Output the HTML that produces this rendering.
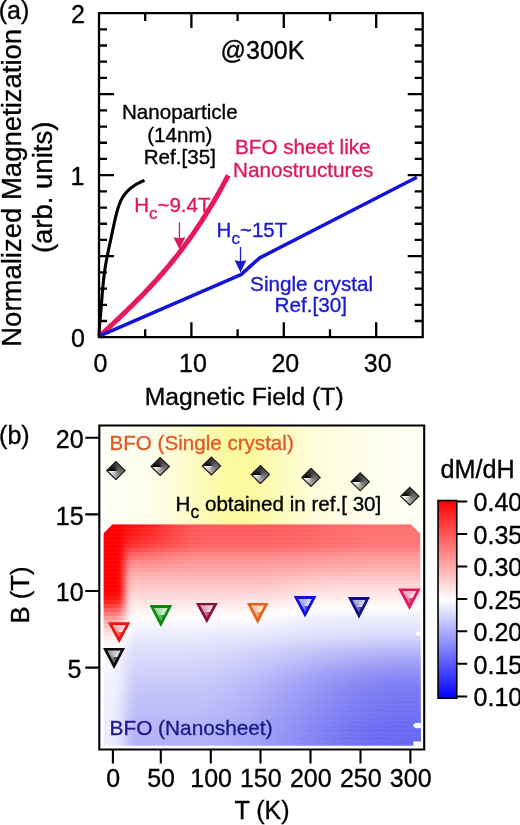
<!DOCTYPE html>
<html><head><meta charset="utf-8"><title>Figure</title>
<style>
html,body{margin:0;padding:0;background:#fff;}
body{width:520px;height:825px;position:relative;overflow:hidden;}
.dm{position:absolute;width:20px;height:19.6px;background:#1a1a1a;clip-path:polygon(50% 0,100% 50%,50% 100%,0 50%);}
.dm>div{position:absolute;left:1.7px;top:1.7px;right:1.7px;bottom:1.7px;clip-path:polygon(50% 0,100% 50%,50% 100%,0 50%);background:conic-gradient(from 270deg,#000,#1a1a1a 8%,#454545 30%,#686868 50%,#9a9a9a 72%,#d4d4d4 90%,#fff);}
.tr{position:absolute;clip-path:polygon(0 0,100% 0,50% 100%);}
.tr>div{position:absolute;clip-path:polygon(0 0,100% 0,50% 100%);}
</style></head><body>
<svg width="520" height="825" viewBox="0 0 520 825" style="display:block">
<defs>
<linearGradient id="cb" x1="0" y1="0" x2="0" y2="1"><stop offset="0" stop-color="#ff0000"/><stop offset="0.5" stop-color="#ffffff"/><stop offset="1" stop-color="#0000ff"/></linearGradient>
<linearGradient id="yg" x1="0" y1="0" x2="1" y2="0"><stop offset="0.002" stop-color="#fcfef8"/><stop offset="0.154" stop-color="#fdfdec"/><stop offset="0.231" stop-color="#fdfdd6"/><stop offset="0.309" stop-color="#fcfbbc"/><stop offset="0.377" stop-color="#fcf9a6"/><stop offset="0.439" stop-color="#fcf99c"/><stop offset="0.501" stop-color="#fdfaa8"/><stop offset="0.563" stop-color="#fdfbbe"/><stop offset="0.656" stop-color="#fefdd8"/><stop offset="0.773" stop-color="#fefee8"/><stop offset="0.999" stop-color="#fffff6"/></linearGradient>
<linearGradient id="dtop" x1="0" y1="0" x2="1" y2="0.3"><stop offset="0" stop-color="#000"/><stop offset="0.5" stop-color="#111"/><stop offset="1" stop-color="#888"/></linearGradient>
<linearGradient id="dbot" x1="0" y1="0" x2="1" y2="0"><stop offset="0" stop-color="#fff"/><stop offset="0.45" stop-color="#ddd"/><stop offset="1" stop-color="#777"/></linearGradient>
</defs>
<rect x="0" y="0" width="520" height="825" fill="#ffffff"/>
<polyline points="99.10,336.50 99.14,335.58 99.19,334.32 99.25,332.81 99.31,331.16 99.38,329.46 99.46,327.80 99.53,326.28 99.60,325.00 99.66,324.01 99.72,323.24 99.78,322.60 99.84,322.01 99.91,321.38 99.99,320.63 100.09,319.67 100.20,318.40 100.34,316.83 100.49,315.02 100.66,313.03 100.84,310.90 101.03,308.68 101.22,306.40 101.41,304.13 101.60,301.90 101.79,299.66 101.97,297.35 102.16,294.99 102.36,292.60 102.55,290.21 102.76,287.85 102.97,285.54 103.20,283.30 103.43,281.14 103.67,279.03 103.91,276.95 104.16,274.91 104.42,272.89 104.69,270.87 104.99,268.84 105.30,266.80 105.64,264.73 106.00,262.65 106.39,260.55 106.79,258.47 107.19,256.40 107.60,254.36 108.01,252.35 108.40,250.40 108.79,248.50 109.18,246.66 109.56,244.86 109.95,243.08 110.34,241.32 110.73,239.56 111.11,237.79 111.50,236.00 111.89,234.18 112.28,232.33 112.66,230.47 113.05,228.62 113.44,226.78 113.83,224.97 114.21,223.21 114.60,221.50 114.98,219.84 115.35,218.23 115.72,216.64 116.09,215.09 116.46,213.58 116.85,212.09 117.26,210.63 117.70,209.20 118.15,207.79 118.61,206.41 119.07,205.06 119.56,203.74 120.06,202.46 120.60,201.20 121.18,199.98 121.80,198.80 122.46,197.66 123.16,196.55 123.88,195.48 124.64,194.44 125.44,193.43 126.26,192.46 127.11,191.51 128.00,190.60 128.93,189.71 129.91,188.86 130.92,188.04 131.97,187.24 133.03,186.48 134.10,185.76 135.16,185.06 136.20,184.40 137.29,183.76 138.46,183.13 139.67,182.53 140.86,181.96 141.99,181.44 143.01,180.99 143.86,180.60 144.50,180.30" fill="none" stroke="#000" stroke-width="3.1" stroke-linejoin="round" stroke-linecap="butt"/>
<polygon points="101.01,338.42 103.20,336.36 105.38,334.31 107.57,332.26 109.75,330.21 111.94,328.16 114.12,326.10 116.31,324.04 118.50,321.97 120.69,319.89 122.87,317.80 125.06,315.71 127.25,313.60 129.44,311.47 131.64,309.34 133.83,307.19 136.02,305.02 138.21,302.83 140.40,300.62 142.60,298.39 144.79,296.14 146.98,293.86 149.18,291.56 151.37,289.23 153.57,286.88 155.76,284.49 157.96,282.08 160.15,279.63 162.35,277.15 164.55,274.64 166.74,272.09 168.94,269.50 171.14,266.87 173.33,264.21 175.53,261.50 177.73,258.75 179.92,255.95 182.12,253.11 184.32,250.23 186.51,247.29 188.71,244.31 190.91,241.28 193.10,238.19 195.30,235.05 197.49,231.86 199.69,228.61 201.89,225.31 204.08,221.94 206.28,218.52 208.47,215.03 210.67,211.48 212.86,207.87 215.06,204.19 217.25,200.45 219.45,196.64 221.64,192.76 223.84,188.81 226.03,184.78 228.22,180.69 230.41,176.53 225.99,174.20 223.81,178.34 221.63,182.41 219.46,186.40 217.28,190.31 215.10,194.16 212.93,197.94 210.76,201.65 208.58,205.29 206.41,208.87 204.23,212.38 202.06,215.83 199.88,219.23 197.71,222.56 195.54,225.83 193.36,229.04 191.19,232.20 189.02,235.31 186.84,238.36 184.67,241.36 182.50,244.31 180.33,247.22 178.15,250.07 175.98,252.88 173.81,255.64 171.63,258.36 169.46,261.04 167.29,263.68 165.12,266.28 162.94,268.84 160.77,271.36 158.60,273.85 156.42,276.31 154.25,278.73 152.07,281.12 149.90,283.48 147.73,285.82 145.55,288.12 143.38,290.40 141.20,292.66 139.02,294.89 136.85,297.11 134.67,299.30 132.49,301.47 130.32,303.63 128.14,305.76 125.96,307.89 123.78,310.00 121.60,312.10 119.42,314.19 117.24,316.27 115.06,318.34 112.88,320.40 110.69,322.46 108.51,324.51 106.33,326.57 104.14,328.62 101.96,330.67 99.77,332.72 97.59,334.78" fill="#e8185c"/>
<polyline points="99.20,336.20 241.00,274.60 259.70,257.90 416.90,177.20" fill="none" stroke="#1414d8" stroke-width="3.5" stroke-linejoin="round" stroke-linecap="butt"/>
<path d="M99.0,13.1H422.7V337.2H99.0ZM99.0,321.00h8M422.7,321.00h-8M99.0,304.79h8M422.7,304.79h-8M99.0,288.58h8M422.7,288.58h-8M99.0,272.38h8M422.7,272.38h-8M99.0,256.18h15M422.7,256.18h-15M99.0,239.97h8M422.7,239.97h-8M99.0,223.76h8M422.7,223.76h-8M99.0,207.56h8M422.7,207.56h-8M99.0,191.35h8M422.7,191.35h-8M99.0,175.15h15M422.7,175.15h-15M99.0,158.94h8M422.7,158.94h-8M99.0,142.74h8M422.7,142.74h-8M99.0,126.53h8M422.7,126.53h-8M99.0,110.33h8M422.7,110.33h-8M99.0,94.12h15M422.7,94.12h-15M99.0,77.92h8M422.7,77.92h-8M99.0,61.71h8M422.7,61.71h-8M99.0,45.51h8M422.7,45.51h-8M99.0,29.31h8M422.7,29.31h-8M145.20,337.2v-8M145.20,13.1v8M191.40,337.2v-15M191.40,13.1v15M237.60,337.2v-8M237.60,13.1v8M283.80,337.2v-15M283.80,13.1v15M330.00,337.2v-8M330.00,13.1v8M376.20,337.2v-15M376.20,13.1v15" fill="none" stroke="#000" stroke-width="2.3"/>
<g font-family='"Liberation Sans", Arial, Helvetica, sans-serif'>
<text x="84.8" y="347.2" font-size="25.0" text-anchor="end" fill="#000"  stroke="#000" stroke-width="0.35">0</text>
<text x="84.4" y="184.95000000000002" font-size="25.0" text-anchor="end" fill="#000"  stroke="#000" stroke-width="0.35">1</text>
<text x="84.9" y="23.00000000000002" font-size="25.0" text-anchor="end" fill="#000"  stroke="#000" stroke-width="0.35">2</text>
<text x="100.5" y="372.3" font-size="25.0" text-anchor="middle" fill="#000"  stroke="#000" stroke-width="0.35">0</text>
<text x="192.9" y="372.3" font-size="25.0" text-anchor="middle" fill="#000"  stroke="#000" stroke-width="0.35">10</text>
<text x="285.3" y="372.3" font-size="25.0" text-anchor="middle" fill="#000"  stroke="#000" stroke-width="0.35">20</text>
<text x="377.7" y="372.3" font-size="25.0" text-anchor="middle" fill="#000"  stroke="#000" stroke-width="0.35">30</text>
<text x="244.2" y="404.7" font-size="24.7" text-anchor="middle" fill="#000"  stroke="#000" stroke-width="0.35">Magnetic Field (T)</text>
<text x="-1.3" y="18.5" font-size="25" text-anchor="start" fill="#000"  stroke="#000" stroke-width="0.35">(a)</text>
<text transform="translate(21.4,187.8) rotate(-90)" font-size="27.5" text-anchor="middle" stroke="#000" stroke-width="0.35">Normalized Magnetization</text>
<text transform="translate(52.3,187.4) rotate(-90)" font-size="27.5" text-anchor="middle" stroke="#000" stroke-width="0.35">(arb. units)</text>
<text x="220.6" y="58.6" font-size="25.0" text-anchor="start" fill="#000"  stroke="#000" stroke-width="0.35">@300K</text>
<text x="179.8" y="118.7" font-size="20.6" text-anchor="middle" fill="#000"  stroke="#000" stroke-width="0.35">Nanoparticle</text>
<text x="179.8" y="142" font-size="20.6" text-anchor="middle" fill="#000"  stroke="#000" stroke-width="0.35">(14nm)</text>
<text x="179.8" y="163.7" font-size="20.6" text-anchor="middle" fill="#000"  stroke="#000" stroke-width="0.35">Ref.[35]</text>
<text x="302.8" y="154.2" font-size="20.7" text-anchor="middle" fill="#e0185a"  stroke="#e0185a" stroke-width="0.35">BFO sheet like</text>
<text x="303.1" y="177.3" font-size="20.7" text-anchor="middle" fill="#e0185a"  stroke="#e0185a" stroke-width="0.35">Nanostructures</text>
<text x="134.2" y="211.5" font-size="20.5" fill="#e0185a" stroke="#e0185a" stroke-width="0.35">H<tspan font-size="17" dy="7.3">c</tspan><tspan dy="-7.3">~9.4T</tspan></text>
<text x="216.6" y="236.9" font-size="20.5" fill="#1a1ad0" stroke="#1a1ad0" stroke-width="0.35">H<tspan font-size="17" dy="7.3">c</tspan><tspan dy="-7.3">~15T</tspan></text>
<text x="311.6" y="290.6" font-size="20.7" text-anchor="middle" fill="#1a1ad0"  stroke="#1a1ad0" stroke-width="0.35">Single crystal</text>
<text x="310.7" y="312" font-size="20.7" text-anchor="middle" fill="#1a1ad0"  stroke="#1a1ad0" stroke-width="0.35">Ref.[30]</text>
</g>
<line x1="179.4" y1="222.3" x2="179.4" y2="241.6" stroke="#e0185a" stroke-width="1.3"/>
<polygon points="173.5,237.2 179.4,238.29999999999998 185.3,237.2 179.4,249.6" fill="#e0185a"/>
<line x1="240.5" y1="246.9" x2="240.5" y2="264.6" stroke="#1a1ad0" stroke-width="1.3"/>
<polygon points="234.6,260.20000000000005 240.5,261.3 246.4,260.20000000000005 240.5,272.6" fill="#1a1ad0"/>
<rect x="100.3" y="426.5" width="322.9" height="98.0" fill="url(#yg)"/>
<clipPath id="hm"><polygon points="103.4,533.4 112.6,524.2 410.6,524.2 420.2,533.6 421.0,745.8 103.4,745.8"/></clipPath>
<defs><linearGradient id="r0" x1="0" x2="1" y1="0" y2="0"><stop offset="-0.001" stop-color="#ff0000"/><stop offset="0.021" stop-color="#ff0000"/><stop offset="0.037" stop-color="#ff0000"/><stop offset="0.049" stop-color="#ff0101"/><stop offset="0.062" stop-color="#ff0606"/><stop offset="0.074" stop-color="#ff0c0c"/><stop offset="0.087" stop-color="#ff1212"/><stop offset="0.103" stop-color="#ff1616"/><stop offset="0.122" stop-color="#ff1b1b"/><stop offset="0.147" stop-color="#ff2424"/><stop offset="0.178" stop-color="#ff3131"/><stop offset="0.225" stop-color="#ff4545"/><stop offset="0.273" stop-color="#ff5656"/><stop offset="0.320" stop-color="#ff5c5c"/><stop offset="0.399" stop-color="#ff5c5c"/><stop offset="0.493" stop-color="#ff5c5c"/><stop offset="0.572" stop-color="#ff5f5f"/><stop offset="0.619" stop-color="#ff6262"/><stop offset="0.682" stop-color="#ff6767"/><stop offset="0.745" stop-color="#ff6c6c"/><stop offset="0.776" stop-color="#ff6f6f"/><stop offset="0.871" stop-color="#ff7272"/><stop offset="0.934" stop-color="#ff7272"/><stop offset="0.965" stop-color="#ff7272"/><stop offset="0.981" stop-color="#ff7272"/><stop offset="1.000" stop-color="#ff7272"/></linearGradient><linearGradient id="r1" x1="0" x2="1" y1="0" y2="0"><stop offset="-0.001" stop-color="#ff0000"/><stop offset="0.021" stop-color="#ff0000"/><stop offset="0.037" stop-color="#ff0000"/><stop offset="0.049" stop-color="#ff0101"/><stop offset="0.062" stop-color="#ff0707"/><stop offset="0.074" stop-color="#ff0f0f"/><stop offset="0.087" stop-color="#ff1515"/><stop offset="0.103" stop-color="#ff1818"/><stop offset="0.122" stop-color="#ff1e1e"/><stop offset="0.147" stop-color="#ff2626"/><stop offset="0.178" stop-color="#ff3333"/><stop offset="0.225" stop-color="#ff4747"/><stop offset="0.273" stop-color="#ff5656"/><stop offset="0.320" stop-color="#ff5d5d"/><stop offset="0.399" stop-color="#ff5d5d"/><stop offset="0.493" stop-color="#ff5d5d"/><stop offset="0.572" stop-color="#ff5f5f"/><stop offset="0.619" stop-color="#ff6262"/><stop offset="0.682" stop-color="#ff6868"/><stop offset="0.745" stop-color="#ff6d6d"/><stop offset="0.776" stop-color="#ff6f6f"/><stop offset="0.871" stop-color="#ff7272"/><stop offset="0.934" stop-color="#ff7272"/><stop offset="0.965" stop-color="#ff7272"/><stop offset="0.981" stop-color="#ff7272"/><stop offset="1.000" stop-color="#ff7272"/></linearGradient><linearGradient id="r2" x1="0" x2="1" y1="0" y2="0"><stop offset="-0.001" stop-color="#ff0000"/><stop offset="0.021" stop-color="#ff0000"/><stop offset="0.037" stop-color="#ff0000"/><stop offset="0.049" stop-color="#ff0101"/><stop offset="0.062" stop-color="#ff0808"/><stop offset="0.074" stop-color="#ff1212"/><stop offset="0.087" stop-color="#ff1a1a"/><stop offset="0.103" stop-color="#ff1d1d"/><stop offset="0.122" stop-color="#ff2222"/><stop offset="0.147" stop-color="#ff2a2a"/><stop offset="0.178" stop-color="#ff3636"/><stop offset="0.225" stop-color="#ff4949"/><stop offset="0.273" stop-color="#ff5757"/><stop offset="0.320" stop-color="#ff5d5d"/><stop offset="0.399" stop-color="#ff5d5d"/><stop offset="0.493" stop-color="#ff5d5d"/><stop offset="0.572" stop-color="#ff6060"/><stop offset="0.619" stop-color="#ff6363"/><stop offset="0.682" stop-color="#ff6868"/><stop offset="0.745" stop-color="#ff6d6d"/><stop offset="0.776" stop-color="#ff6f6f"/><stop offset="0.871" stop-color="#ff7272"/><stop offset="0.934" stop-color="#ff7272"/><stop offset="0.965" stop-color="#ff7272"/><stop offset="0.981" stop-color="#ff7272"/><stop offset="1.000" stop-color="#ff7272"/></linearGradient><linearGradient id="r3" x1="0" x2="1" y1="0" y2="0"><stop offset="-0.001" stop-color="#ff0000"/><stop offset="0.021" stop-color="#ff0000"/><stop offset="0.037" stop-color="#ff0000"/><stop offset="0.049" stop-color="#ff0202"/><stop offset="0.062" stop-color="#ff0b0b"/><stop offset="0.074" stop-color="#ff1818"/><stop offset="0.087" stop-color="#ff2121"/><stop offset="0.103" stop-color="#ff2525"/><stop offset="0.122" stop-color="#ff2929"/><stop offset="0.147" stop-color="#ff3131"/><stop offset="0.178" stop-color="#ff3c3c"/><stop offset="0.225" stop-color="#ff4d4d"/><stop offset="0.273" stop-color="#ff5a5a"/><stop offset="0.320" stop-color="#ff6060"/><stop offset="0.399" stop-color="#ff6060"/><stop offset="0.493" stop-color="#ff6060"/><stop offset="0.572" stop-color="#ff6262"/><stop offset="0.619" stop-color="#ff6565"/><stop offset="0.682" stop-color="#ff6a6a"/><stop offset="0.745" stop-color="#ff6f6f"/><stop offset="0.776" stop-color="#ff7171"/><stop offset="0.871" stop-color="#ff7474"/><stop offset="0.934" stop-color="#ff7474"/><stop offset="0.965" stop-color="#ff7474"/><stop offset="0.981" stop-color="#ff7474"/><stop offset="1.000" stop-color="#ff7474"/></linearGradient><linearGradient id="r4" x1="0" x2="1" y1="0" y2="0"><stop offset="-0.001" stop-color="#ff0000"/><stop offset="0.021" stop-color="#ff0000"/><stop offset="0.037" stop-color="#ff0000"/><stop offset="0.049" stop-color="#ff0202"/><stop offset="0.062" stop-color="#ff0f0f"/><stop offset="0.074" stop-color="#ff1f1f"/><stop offset="0.087" stop-color="#ff2b2b"/><stop offset="0.103" stop-color="#ff2e2e"/><stop offset="0.122" stop-color="#ff3232"/><stop offset="0.147" stop-color="#ff3939"/><stop offset="0.178" stop-color="#ff4343"/><stop offset="0.225" stop-color="#ff5252"/><stop offset="0.273" stop-color="#ff5e5e"/><stop offset="0.320" stop-color="#ff6363"/><stop offset="0.399" stop-color="#ff6363"/><stop offset="0.493" stop-color="#ff6363"/><stop offset="0.572" stop-color="#ff6565"/><stop offset="0.619" stop-color="#ff6868"/><stop offset="0.682" stop-color="#ff6d6d"/><stop offset="0.745" stop-color="#ff7171"/><stop offset="0.776" stop-color="#ff7373"/><stop offset="0.871" stop-color="#ff7676"/><stop offset="0.934" stop-color="#ff7676"/><stop offset="0.965" stop-color="#ff7676"/><stop offset="0.981" stop-color="#ff7676"/><stop offset="1.000" stop-color="#ff7676"/></linearGradient><linearGradient id="r5" x1="0" x2="1" y1="0" y2="0"><stop offset="-0.001" stop-color="#ff0000"/><stop offset="0.021" stop-color="#ff0000"/><stop offset="0.037" stop-color="#ff0000"/><stop offset="0.049" stop-color="#ff0303"/><stop offset="0.062" stop-color="#ff1313"/><stop offset="0.074" stop-color="#ff2727"/><stop offset="0.087" stop-color="#ff3636"/><stop offset="0.103" stop-color="#ff3939"/><stop offset="0.122" stop-color="#ff3c3c"/><stop offset="0.147" stop-color="#ff4242"/><stop offset="0.178" stop-color="#ff4b4b"/><stop offset="0.225" stop-color="#ff5858"/><stop offset="0.273" stop-color="#ff6262"/><stop offset="0.320" stop-color="#ff6767"/><stop offset="0.399" stop-color="#ff6767"/><stop offset="0.493" stop-color="#ff6767"/><stop offset="0.572" stop-color="#ff6969"/><stop offset="0.619" stop-color="#ff6b6b"/><stop offset="0.682" stop-color="#ff7070"/><stop offset="0.745" stop-color="#ff7474"/><stop offset="0.776" stop-color="#ff7676"/><stop offset="0.871" stop-color="#ff7878"/><stop offset="0.934" stop-color="#ff7878"/><stop offset="0.965" stop-color="#ff7878"/><stop offset="0.981" stop-color="#ff7878"/><stop offset="1.000" stop-color="#ff7878"/></linearGradient><linearGradient id="r6" x1="0" x2="1" y1="0" y2="0"><stop offset="-0.001" stop-color="#ff0000"/><stop offset="0.021" stop-color="#ff0000"/><stop offset="0.037" stop-color="#ff0000"/><stop offset="0.049" stop-color="#ff0404"/><stop offset="0.062" stop-color="#ff1b1b"/><stop offset="0.074" stop-color="#ff3838"/><stop offset="0.087" stop-color="#ff4c4c"/><stop offset="0.103" stop-color="#ff4f4f"/><stop offset="0.122" stop-color="#ff5252"/><stop offset="0.147" stop-color="#ff5757"/><stop offset="0.178" stop-color="#ff5e5e"/><stop offset="0.225" stop-color="#ff6969"/><stop offset="0.273" stop-color="#ff7272"/><stop offset="0.320" stop-color="#ff7676"/><stop offset="0.399" stop-color="#ff7676"/><stop offset="0.493" stop-color="#ff7676"/><stop offset="0.572" stop-color="#ff7878"/><stop offset="0.619" stop-color="#ff7a7a"/><stop offset="0.682" stop-color="#ff7e7e"/><stop offset="0.745" stop-color="#ff8282"/><stop offset="0.776" stop-color="#ff8383"/><stop offset="0.871" stop-color="#ff8686"/><stop offset="0.934" stop-color="#ff8686"/><stop offset="0.965" stop-color="#ff8686"/><stop offset="0.981" stop-color="#ff8686"/><stop offset="1.000" stop-color="#ff8686"/></linearGradient><linearGradient id="r7" x1="0" x2="1" y1="0" y2="0"><stop offset="-0.001" stop-color="#ff0000"/><stop offset="0.021" stop-color="#ff0000"/><stop offset="0.037" stop-color="#ff0000"/><stop offset="0.049" stop-color="#ff0505"/><stop offset="0.062" stop-color="#ff2323"/><stop offset="0.074" stop-color="#ff4a4a"/><stop offset="0.087" stop-color="#ff6363"/><stop offset="0.103" stop-color="#ff6565"/><stop offset="0.122" stop-color="#ff6868"/><stop offset="0.147" stop-color="#ff6c6c"/><stop offset="0.178" stop-color="#ff7272"/><stop offset="0.225" stop-color="#ff7b7b"/><stop offset="0.273" stop-color="#ff8282"/><stop offset="0.320" stop-color="#ff8585"/><stop offset="0.399" stop-color="#ff8585"/><stop offset="0.493" stop-color="#ff8585"/><stop offset="0.572" stop-color="#ff8686"/><stop offset="0.619" stop-color="#ff8888"/><stop offset="0.682" stop-color="#ff8c8c"/><stop offset="0.745" stop-color="#ff8f8f"/><stop offset="0.776" stop-color="#ff9191"/><stop offset="0.871" stop-color="#ff9393"/><stop offset="0.934" stop-color="#ff9393"/><stop offset="0.965" stop-color="#ff9393"/><stop offset="0.981" stop-color="#ff9393"/><stop offset="1.000" stop-color="#ff9393"/></linearGradient><linearGradient id="r8" x1="0" x2="1" y1="0" y2="0"><stop offset="-0.001" stop-color="#ff0000"/><stop offset="0.021" stop-color="#ff0000"/><stop offset="0.037" stop-color="#ff0000"/><stop offset="0.049" stop-color="#ff0606"/><stop offset="0.062" stop-color="#ff2a2a"/><stop offset="0.074" stop-color="#ff5858"/><stop offset="0.087" stop-color="#ff7575"/><stop offset="0.103" stop-color="#ff7878"/><stop offset="0.122" stop-color="#ff7a7a"/><stop offset="0.147" stop-color="#ff7d7d"/><stop offset="0.178" stop-color="#ff8181"/><stop offset="0.225" stop-color="#ff8888"/><stop offset="0.273" stop-color="#ff8e8e"/><stop offset="0.320" stop-color="#ff9090"/><stop offset="0.399" stop-color="#ff9090"/><stop offset="0.493" stop-color="#ff9090"/><stop offset="0.572" stop-color="#ff9191"/><stop offset="0.619" stop-color="#ff9393"/><stop offset="0.682" stop-color="#ff9696"/><stop offset="0.745" stop-color="#ff9999"/><stop offset="0.776" stop-color="#ff9b9b"/><stop offset="0.871" stop-color="#ff9d9d"/><stop offset="0.934" stop-color="#ff9d9d"/><stop offset="0.965" stop-color="#ff9d9d"/><stop offset="0.981" stop-color="#ff9d9d"/><stop offset="1.000" stop-color="#ff9d9d"/></linearGradient><linearGradient id="r9" x1="0" x2="1" y1="0" y2="0"><stop offset="-0.001" stop-color="#ff0000"/><stop offset="0.021" stop-color="#ff0000"/><stop offset="0.037" stop-color="#ff0000"/><stop offset="0.049" stop-color="#ff0606"/><stop offset="0.062" stop-color="#ff2f2f"/><stop offset="0.074" stop-color="#ff6363"/><stop offset="0.087" stop-color="#ff8484"/><stop offset="0.103" stop-color="#ff8787"/><stop offset="0.122" stop-color="#ff8888"/><stop offset="0.147" stop-color="#ff8a8a"/><stop offset="0.178" stop-color="#ff8e8e"/><stop offset="0.225" stop-color="#ff9292"/><stop offset="0.273" stop-color="#ff9696"/><stop offset="0.320" stop-color="#ff9898"/><stop offset="0.399" stop-color="#ff9898"/><stop offset="0.493" stop-color="#ff9898"/><stop offset="0.572" stop-color="#ff9999"/><stop offset="0.619" stop-color="#ff9b9b"/><stop offset="0.682" stop-color="#ff9e9e"/><stop offset="0.745" stop-color="#ffa0a0"/><stop offset="0.776" stop-color="#ffa1a1"/><stop offset="0.871" stop-color="#ffa3a3"/><stop offset="0.934" stop-color="#ffa3a3"/><stop offset="0.965" stop-color="#ffa3a3"/><stop offset="0.981" stop-color="#ffa3a3"/><stop offset="1.000" stop-color="#ffa3a3"/></linearGradient><linearGradient id="r10" x1="0" x2="1" y1="0" y2="0"><stop offset="-0.001" stop-color="#ff0000"/><stop offset="0.021" stop-color="#ff0000"/><stop offset="0.037" stop-color="#ff0000"/><stop offset="0.049" stop-color="#ff0707"/><stop offset="0.062" stop-color="#ff3434"/><stop offset="0.074" stop-color="#ff6e6e"/><stop offset="0.087" stop-color="#ff9393"/><stop offset="0.103" stop-color="#ff9595"/><stop offset="0.122" stop-color="#ff9696"/><stop offset="0.147" stop-color="#ff9797"/><stop offset="0.178" stop-color="#ff9999"/><stop offset="0.225" stop-color="#ff9c9c"/><stop offset="0.273" stop-color="#ff9f9f"/><stop offset="0.320" stop-color="#ffa0a0"/><stop offset="0.399" stop-color="#ffa0a0"/><stop offset="0.493" stop-color="#ffa0a0"/><stop offset="0.572" stop-color="#ffa2a2"/><stop offset="0.619" stop-color="#ffa3a3"/><stop offset="0.682" stop-color="#ffa6a6"/><stop offset="0.745" stop-color="#ffa8a8"/><stop offset="0.776" stop-color="#ffa9a9"/><stop offset="0.871" stop-color="#ffabab"/><stop offset="0.934" stop-color="#ffabab"/><stop offset="0.965" stop-color="#ffabab"/><stop offset="0.981" stop-color="#ffabab"/><stop offset="1.000" stop-color="#ffabab"/></linearGradient><linearGradient id="r11" x1="0" x2="1" y1="0" y2="0"><stop offset="-0.001" stop-color="#ff0000"/><stop offset="0.021" stop-color="#ff0000"/><stop offset="0.037" stop-color="#ff0000"/><stop offset="0.049" stop-color="#ff0808"/><stop offset="0.062" stop-color="#ff3939"/><stop offset="0.074" stop-color="#ff7878"/><stop offset="0.087" stop-color="#ffa0a0"/><stop offset="0.103" stop-color="#ffa2a2"/><stop offset="0.122" stop-color="#ffa3a3"/><stop offset="0.147" stop-color="#ffa3a3"/><stop offset="0.178" stop-color="#ffa4a4"/><stop offset="0.225" stop-color="#ffa6a6"/><stop offset="0.273" stop-color="#ffa7a7"/><stop offset="0.320" stop-color="#ffa8a8"/><stop offset="0.399" stop-color="#ffa8a8"/><stop offset="0.493" stop-color="#ffa8a8"/><stop offset="0.572" stop-color="#ffaaaa"/><stop offset="0.619" stop-color="#ffadad"/><stop offset="0.682" stop-color="#ffb0b0"/><stop offset="0.745" stop-color="#ffb2b2"/><stop offset="0.776" stop-color="#ffb2b2"/><stop offset="0.871" stop-color="#ffb4b4"/><stop offset="0.934" stop-color="#ffb4b4"/><stop offset="0.965" stop-color="#ffb4b4"/><stop offset="0.981" stop-color="#ffb4b4"/><stop offset="1.000" stop-color="#ffb4b4"/></linearGradient><linearGradient id="r12" x1="0" x2="1" y1="0" y2="0"><stop offset="-0.001" stop-color="#ff0000"/><stop offset="0.021" stop-color="#ff0000"/><stop offset="0.037" stop-color="#ff0000"/><stop offset="0.049" stop-color="#ff0808"/><stop offset="0.062" stop-color="#ff3d3d"/><stop offset="0.074" stop-color="#ff8181"/><stop offset="0.087" stop-color="#ffacac"/><stop offset="0.103" stop-color="#ffaeae"/><stop offset="0.122" stop-color="#ffaeae"/><stop offset="0.147" stop-color="#ffaeae"/><stop offset="0.178" stop-color="#ffafaf"/><stop offset="0.225" stop-color="#ffafaf"/><stop offset="0.273" stop-color="#ffb0b0"/><stop offset="0.320" stop-color="#ffb0b0"/><stop offset="0.399" stop-color="#ffb0b0"/><stop offset="0.493" stop-color="#ffb0b0"/><stop offset="0.572" stop-color="#ffb3b3"/><stop offset="0.619" stop-color="#ffb6b6"/><stop offset="0.682" stop-color="#ffbaba"/><stop offset="0.745" stop-color="#ffbbbb"/><stop offset="0.776" stop-color="#ffbcbc"/><stop offset="0.871" stop-color="#ffbdbd"/><stop offset="0.934" stop-color="#ffbdbd"/><stop offset="0.965" stop-color="#ffbdbd"/><stop offset="0.981" stop-color="#ffbdbd"/><stop offset="1.000" stop-color="#ffbdbd"/></linearGradient><linearGradient id="r13" x1="0" x2="1" y1="0" y2="0"><stop offset="-0.001" stop-color="#ff0000"/><stop offset="0.021" stop-color="#ff0000"/><stop offset="0.037" stop-color="#ff0000"/><stop offset="0.049" stop-color="#ff0909"/><stop offset="0.062" stop-color="#ff4141"/><stop offset="0.074" stop-color="#ff8888"/><stop offset="0.087" stop-color="#ffb5b5"/><stop offset="0.103" stop-color="#ffb8b8"/><stop offset="0.122" stop-color="#ffb8b8"/><stop offset="0.147" stop-color="#ffb8b8"/><stop offset="0.178" stop-color="#ffb8b8"/><stop offset="0.225" stop-color="#ffb8b8"/><stop offset="0.273" stop-color="#ffb8b8"/><stop offset="0.320" stop-color="#ffb8b8"/><stop offset="0.399" stop-color="#ffb8b8"/><stop offset="0.493" stop-color="#ffb8b8"/><stop offset="0.572" stop-color="#ffbdbd"/><stop offset="0.619" stop-color="#ffc0c0"/><stop offset="0.682" stop-color="#ffc4c4"/><stop offset="0.745" stop-color="#ffc5c5"/><stop offset="0.776" stop-color="#ffc6c6"/><stop offset="0.871" stop-color="#ffc6c6"/><stop offset="0.934" stop-color="#ffc6c6"/><stop offset="0.965" stop-color="#ffc6c6"/><stop offset="0.981" stop-color="#ffc6c6"/><stop offset="1.000" stop-color="#ffc6c6"/></linearGradient><linearGradient id="r14" x1="0" x2="1" y1="0" y2="0"><stop offset="-0.001" stop-color="#ff0000"/><stop offset="0.021" stop-color="#ff0000"/><stop offset="0.037" stop-color="#ff0000"/><stop offset="0.049" stop-color="#ff0909"/><stop offset="0.062" stop-color="#ff4343"/><stop offset="0.074" stop-color="#ff8e8e"/><stop offset="0.087" stop-color="#ffbdbd"/><stop offset="0.103" stop-color="#ffbfbf"/><stop offset="0.122" stop-color="#ffbfbf"/><stop offset="0.147" stop-color="#ffbfbf"/><stop offset="0.178" stop-color="#ffbfbf"/><stop offset="0.225" stop-color="#ffbfbf"/><stop offset="0.273" stop-color="#ffbfbf"/><stop offset="0.320" stop-color="#ffbfbf"/><stop offset="0.399" stop-color="#ffbfbf"/><stop offset="0.493" stop-color="#ffc0c0"/><stop offset="0.572" stop-color="#ffc5c5"/><stop offset="0.619" stop-color="#ffc9c9"/><stop offset="0.682" stop-color="#ffcdcd"/><stop offset="0.745" stop-color="#ffcece"/><stop offset="0.776" stop-color="#ffcfcf"/><stop offset="0.871" stop-color="#ffcfcf"/><stop offset="0.934" stop-color="#ffcfcf"/><stop offset="0.965" stop-color="#ffcfcf"/><stop offset="0.981" stop-color="#ffcfcf"/><stop offset="1.000" stop-color="#ffcfcf"/></linearGradient><linearGradient id="r15" x1="0" x2="1" y1="0" y2="0"><stop offset="-0.001" stop-color="#ff0000"/><stop offset="0.021" stop-color="#ff0000"/><stop offset="0.037" stop-color="#ff0000"/><stop offset="0.049" stop-color="#ff0a0a"/><stop offset="0.062" stop-color="#ff4646"/><stop offset="0.074" stop-color="#ff9393"/><stop offset="0.087" stop-color="#ffc4c4"/><stop offset="0.103" stop-color="#ffc7c7"/><stop offset="0.122" stop-color="#ffc7c7"/><stop offset="0.147" stop-color="#ffc7c7"/><stop offset="0.178" stop-color="#ffc7c7"/><stop offset="0.225" stop-color="#ffc7c7"/><stop offset="0.273" stop-color="#ffc7c7"/><stop offset="0.320" stop-color="#ffc7c7"/><stop offset="0.399" stop-color="#ffc7c7"/><stop offset="0.493" stop-color="#ffc7c7"/><stop offset="0.572" stop-color="#ffcdcd"/><stop offset="0.619" stop-color="#ffd1d1"/><stop offset="0.682" stop-color="#ffd6d6"/><stop offset="0.745" stop-color="#ffd7d7"/><stop offset="0.776" stop-color="#ffd7d7"/><stop offset="0.871" stop-color="#ffd7d7"/><stop offset="0.934" stop-color="#ffd7d7"/><stop offset="0.965" stop-color="#ffd7d7"/><stop offset="0.981" stop-color="#ffd7d7"/><stop offset="1.000" stop-color="#ffd7d7"/></linearGradient><linearGradient id="r16" x1="0" x2="1" y1="0" y2="0"><stop offset="-0.001" stop-color="#ff0000"/><stop offset="0.021" stop-color="#ff0000"/><stop offset="0.037" stop-color="#ff0000"/><stop offset="0.049" stop-color="#ff0a0a"/><stop offset="0.062" stop-color="#ff4949"/><stop offset="0.074" stop-color="#ff9999"/><stop offset="0.087" stop-color="#ffcbcb"/><stop offset="0.103" stop-color="#ffcece"/><stop offset="0.122" stop-color="#ffcece"/><stop offset="0.147" stop-color="#ffcece"/><stop offset="0.178" stop-color="#ffcece"/><stop offset="0.225" stop-color="#ffcece"/><stop offset="0.273" stop-color="#ffcece"/><stop offset="0.320" stop-color="#ffcece"/><stop offset="0.399" stop-color="#ffcece"/><stop offset="0.493" stop-color="#ffcfcf"/><stop offset="0.572" stop-color="#ffd4d4"/><stop offset="0.619" stop-color="#ffd9d9"/><stop offset="0.682" stop-color="#ffdddd"/><stop offset="0.745" stop-color="#ffdede"/><stop offset="0.776" stop-color="#ffdede"/><stop offset="0.871" stop-color="#ffdede"/><stop offset="0.934" stop-color="#ffdede"/><stop offset="0.965" stop-color="#ffdede"/><stop offset="0.981" stop-color="#ffdede"/><stop offset="1.000" stop-color="#ffdede"/></linearGradient><linearGradient id="r17" x1="0" x2="1" y1="0" y2="0"><stop offset="-0.001" stop-color="#ff0707"/><stop offset="0.021" stop-color="#ff0707"/><stop offset="0.037" stop-color="#ff0707"/><stop offset="0.049" stop-color="#ff1111"/><stop offset="0.062" stop-color="#ff5050"/><stop offset="0.074" stop-color="#ffa0a0"/><stop offset="0.087" stop-color="#ffd3d3"/><stop offset="0.103" stop-color="#ffd6d6"/><stop offset="0.122" stop-color="#ffd6d6"/><stop offset="0.147" stop-color="#ffd6d6"/><stop offset="0.178" stop-color="#ffd6d6"/><stop offset="0.225" stop-color="#ffd6d6"/><stop offset="0.273" stop-color="#ffd6d6"/><stop offset="0.320" stop-color="#ffd6d6"/><stop offset="0.399" stop-color="#ffd6d6"/><stop offset="0.493" stop-color="#ffd6d6"/><stop offset="0.572" stop-color="#ffdcdc"/><stop offset="0.619" stop-color="#ffe0e0"/><stop offset="0.682" stop-color="#ffe4e4"/><stop offset="0.745" stop-color="#ffe5e5"/><stop offset="0.776" stop-color="#ffe5e5"/><stop offset="0.871" stop-color="#ffe5e5"/><stop offset="0.934" stop-color="#ffe5e5"/><stop offset="0.965" stop-color="#ffe5e5"/><stop offset="0.981" stop-color="#ffe5e5"/><stop offset="1.000" stop-color="#ffe5e5"/></linearGradient><linearGradient id="r18" x1="0" x2="1" y1="0" y2="0"><stop offset="-0.001" stop-color="#ff1515"/><stop offset="0.021" stop-color="#ff1515"/><stop offset="0.037" stop-color="#ff1515"/><stop offset="0.049" stop-color="#ff1f1f"/><stop offset="0.062" stop-color="#ff5b5b"/><stop offset="0.074" stop-color="#ffa9a9"/><stop offset="0.087" stop-color="#ffdada"/><stop offset="0.103" stop-color="#ffdddd"/><stop offset="0.122" stop-color="#ffdddd"/><stop offset="0.147" stop-color="#ffdddd"/><stop offset="0.178" stop-color="#ffdddd"/><stop offset="0.225" stop-color="#ffdddd"/><stop offset="0.273" stop-color="#ffdddd"/><stop offset="0.320" stop-color="#ffdddd"/><stop offset="0.399" stop-color="#ffdddd"/><stop offset="0.493" stop-color="#ffdede"/><stop offset="0.572" stop-color="#ffe3e3"/><stop offset="0.619" stop-color="#ffe8e8"/><stop offset="0.682" stop-color="#ffecec"/><stop offset="0.745" stop-color="#ffecec"/><stop offset="0.776" stop-color="#ffecec"/><stop offset="0.871" stop-color="#ffecec"/><stop offset="0.934" stop-color="#ffecec"/><stop offset="0.965" stop-color="#ffecec"/><stop offset="0.981" stop-color="#ffecec"/><stop offset="1.000" stop-color="#ffecec"/></linearGradient><linearGradient id="r19" x1="0" x2="1" y1="0" y2="0"><stop offset="-0.001" stop-color="#ff2323"/><stop offset="0.021" stop-color="#ff2323"/><stop offset="0.037" stop-color="#ff2323"/><stop offset="0.049" stop-color="#ff2d2d"/><stop offset="0.062" stop-color="#ff6868"/><stop offset="0.074" stop-color="#ffb2b2"/><stop offset="0.087" stop-color="#ffe2e2"/><stop offset="0.103" stop-color="#ffe5e5"/><stop offset="0.122" stop-color="#ffe5e5"/><stop offset="0.147" stop-color="#ffe5e5"/><stop offset="0.178" stop-color="#ffe5e5"/><stop offset="0.225" stop-color="#ffe5e5"/><stop offset="0.273" stop-color="#ffe5e5"/><stop offset="0.320" stop-color="#ffe5e5"/><stop offset="0.399" stop-color="#ffe5e5"/><stop offset="0.493" stop-color="#ffe5e5"/><stop offset="0.572" stop-color="#ffebeb"/><stop offset="0.619" stop-color="#ffefef"/><stop offset="0.682" stop-color="#fff3f3"/><stop offset="0.745" stop-color="#fff4f4"/><stop offset="0.776" stop-color="#fff4f4"/><stop offset="0.871" stop-color="#fff4f4"/><stop offset="0.934" stop-color="#fff4f4"/><stop offset="0.965" stop-color="#fff4f4"/><stop offset="0.981" stop-color="#fff4f4"/><stop offset="1.000" stop-color="#fff4f4"/></linearGradient><linearGradient id="r20" x1="0" x2="1" y1="0" y2="0"><stop offset="-0.001" stop-color="#ff4141"/><stop offset="0.021" stop-color="#ff4141"/><stop offset="0.037" stop-color="#ff4141"/><stop offset="0.049" stop-color="#ff4b4b"/><stop offset="0.062" stop-color="#ff7e7e"/><stop offset="0.074" stop-color="#ffbebe"/><stop offset="0.087" stop-color="#ffe8e8"/><stop offset="0.103" stop-color="#ffecec"/><stop offset="0.122" stop-color="#ffecec"/><stop offset="0.147" stop-color="#ffecec"/><stop offset="0.178" stop-color="#ffecec"/><stop offset="0.225" stop-color="#ffecec"/><stop offset="0.273" stop-color="#ffecec"/><stop offset="0.320" stop-color="#ffecec"/><stop offset="0.399" stop-color="#ffecec"/><stop offset="0.493" stop-color="#ffeded"/><stop offset="0.572" stop-color="#fff2f2"/><stop offset="0.619" stop-color="#fff6f6"/><stop offset="0.682" stop-color="#fffbfb"/><stop offset="0.745" stop-color="#fffbfb"/><stop offset="0.776" stop-color="#fffbfb"/><stop offset="0.871" stop-color="#fffbfb"/><stop offset="0.934" stop-color="#fffbfb"/><stop offset="0.965" stop-color="#fffbfb"/><stop offset="0.981" stop-color="#fffbfb"/><stop offset="1.000" stop-color="#fffbfb"/></linearGradient><linearGradient id="r21" x1="0" x2="1" y1="0" y2="0"><stop offset="-0.001" stop-color="#ff5f5f"/><stop offset="0.021" stop-color="#ff5f5f"/><stop offset="0.037" stop-color="#ff5f5f"/><stop offset="0.049" stop-color="#ff6a6a"/><stop offset="0.062" stop-color="#ff9494"/><stop offset="0.074" stop-color="#ffc8c8"/><stop offset="0.087" stop-color="#ffeeee"/><stop offset="0.103" stop-color="#fff3f3"/><stop offset="0.122" stop-color="#fff3f3"/><stop offset="0.147" stop-color="#fff3f3"/><stop offset="0.178" stop-color="#fff3f3"/><stop offset="0.225" stop-color="#fff3f3"/><stop offset="0.273" stop-color="#fff3f3"/><stop offset="0.320" stop-color="#fff3f3"/><stop offset="0.399" stop-color="#fff3f3"/><stop offset="0.493" stop-color="#fff4f4"/><stop offset="0.572" stop-color="#fffafa"/><stop offset="0.619" stop-color="#fffefe"/><stop offset="0.682" stop-color="#fcfcff"/><stop offset="0.745" stop-color="#fbfbff"/><stop offset="0.776" stop-color="#fbfbff"/><stop offset="0.871" stop-color="#fbfbff"/><stop offset="0.934" stop-color="#fbfbff"/><stop offset="0.965" stop-color="#fbfbff"/><stop offset="0.981" stop-color="#fbfbff"/><stop offset="1.000" stop-color="#fbfbff"/></linearGradient><linearGradient id="r22" x1="0" x2="1" y1="0" y2="0"><stop offset="-0.001" stop-color="#ff7d7d"/><stop offset="0.021" stop-color="#ff7d7d"/><stop offset="0.037" stop-color="#ff7d7d"/><stop offset="0.049" stop-color="#ff8989"/><stop offset="0.062" stop-color="#ffabab"/><stop offset="0.074" stop-color="#ffd3d3"/><stop offset="0.087" stop-color="#fff3f3"/><stop offset="0.103" stop-color="#fffafa"/><stop offset="0.122" stop-color="#fffafa"/><stop offset="0.147" stop-color="#fffafa"/><stop offset="0.178" stop-color="#fffafa"/><stop offset="0.225" stop-color="#fffafa"/><stop offset="0.273" stop-color="#fffafa"/><stop offset="0.320" stop-color="#fffafa"/><stop offset="0.399" stop-color="#fffafa"/><stop offset="0.493" stop-color="#fffbfb"/><stop offset="0.572" stop-color="#fdfdff"/><stop offset="0.619" stop-color="#f9f9ff"/><stop offset="0.682" stop-color="#f5f5fe"/><stop offset="0.745" stop-color="#f4f4fe"/><stop offset="0.776" stop-color="#f4f4fe"/><stop offset="0.871" stop-color="#f4f4fe"/><stop offset="0.934" stop-color="#f4f4fe"/><stop offset="0.965" stop-color="#f4f4fe"/><stop offset="0.981" stop-color="#f4f4fe"/><stop offset="1.000" stop-color="#f4f4fe"/></linearGradient><linearGradient id="r23" x1="0" x2="1" y1="0" y2="0"><stop offset="-0.001" stop-color="#ff9a9a"/><stop offset="0.021" stop-color="#ff9a9a"/><stop offset="0.037" stop-color="#ff9a9a"/><stop offset="0.049" stop-color="#ffa6a6"/><stop offset="0.062" stop-color="#ffc0c0"/><stop offset="0.074" stop-color="#ffdfdf"/><stop offset="0.087" stop-color="#fff8f8"/><stop offset="0.103" stop-color="#fdfdff"/><stop offset="0.122" stop-color="#fdfdff"/><stop offset="0.147" stop-color="#fdfdff"/><stop offset="0.178" stop-color="#fdfdff"/><stop offset="0.225" stop-color="#fdfdff"/><stop offset="0.273" stop-color="#fdfdff"/><stop offset="0.320" stop-color="#fdfdff"/><stop offset="0.399" stop-color="#fdfdff"/><stop offset="0.493" stop-color="#fcfcff"/><stop offset="0.572" stop-color="#f7f7fe"/><stop offset="0.619" stop-color="#f2f2fe"/><stop offset="0.682" stop-color="#eeeefe"/><stop offset="0.745" stop-color="#ededfd"/><stop offset="0.776" stop-color="#ededfd"/><stop offset="0.871" stop-color="#ededfd"/><stop offset="0.934" stop-color="#ededfd"/><stop offset="0.965" stop-color="#ededfd"/><stop offset="0.981" stop-color="#ededfd"/><stop offset="1.000" stop-color="#ededfd"/></linearGradient><linearGradient id="r24" x1="0" x2="1" y1="0" y2="0"><stop offset="-0.001" stop-color="#ffaeae"/><stop offset="0.021" stop-color="#ffaeae"/><stop offset="0.037" stop-color="#ffafaf"/><stop offset="0.049" stop-color="#ffbaba"/><stop offset="0.062" stop-color="#ffcfcf"/><stop offset="0.074" stop-color="#ffe7e7"/><stop offset="0.087" stop-color="#fffcfc"/><stop offset="0.103" stop-color="#f9f9fe"/><stop offset="0.122" stop-color="#f9f9fe"/><stop offset="0.147" stop-color="#f9f9fe"/><stop offset="0.178" stop-color="#f9f9fe"/><stop offset="0.225" stop-color="#f9f9fe"/><stop offset="0.273" stop-color="#f9f9fe"/><stop offset="0.320" stop-color="#f8f8fe"/><stop offset="0.399" stop-color="#f8f8fe"/><stop offset="0.493" stop-color="#f7f7fe"/><stop offset="0.572" stop-color="#f2f2fe"/><stop offset="0.619" stop-color="#eeeefe"/><stop offset="0.682" stop-color="#ebebfd"/><stop offset="0.745" stop-color="#eaeafd"/><stop offset="0.776" stop-color="#e9e9fd"/><stop offset="0.871" stop-color="#e9e9fd"/><stop offset="0.934" stop-color="#e9e9fd"/><stop offset="0.965" stop-color="#e9e9fd"/><stop offset="0.981" stop-color="#e9e9fd"/><stop offset="1.000" stop-color="#e9e9fd"/></linearGradient><linearGradient id="r25" x1="0" x2="1" y1="0" y2="0"><stop offset="-0.001" stop-color="#ffc3c3"/><stop offset="0.021" stop-color="#ffc3c3"/><stop offset="0.037" stop-color="#ffc4c4"/><stop offset="0.049" stop-color="#ffcece"/><stop offset="0.062" stop-color="#ffdede"/><stop offset="0.074" stop-color="#fff0f0"/><stop offset="0.087" stop-color="#fefeff"/><stop offset="0.103" stop-color="#f4f4fe"/><stop offset="0.122" stop-color="#f4f4fe"/><stop offset="0.147" stop-color="#f4f4fe"/><stop offset="0.178" stop-color="#f4f4fe"/><stop offset="0.225" stop-color="#f4f4fe"/><stop offset="0.273" stop-color="#f4f4fe"/><stop offset="0.320" stop-color="#f4f4fe"/><stop offset="0.399" stop-color="#f3f3fe"/><stop offset="0.493" stop-color="#f2f2fe"/><stop offset="0.572" stop-color="#eeeefd"/><stop offset="0.619" stop-color="#eaeafd"/><stop offset="0.682" stop-color="#e7e7fd"/><stop offset="0.745" stop-color="#e6e6fd"/><stop offset="0.776" stop-color="#e6e6fd"/><stop offset="0.871" stop-color="#e5e5fd"/><stop offset="0.934" stop-color="#e5e5fd"/><stop offset="0.965" stop-color="#e5e5fd"/><stop offset="0.981" stop-color="#e5e5fd"/><stop offset="1.000" stop-color="#e5e5fd"/></linearGradient><linearGradient id="r26" x1="0" x2="1" y1="0" y2="0"><stop offset="-0.001" stop-color="#ffd3d3"/><stop offset="0.021" stop-color="#ffd3d3"/><stop offset="0.037" stop-color="#ffd4d4"/><stop offset="0.049" stop-color="#ffdddd"/><stop offset="0.062" stop-color="#ffeaea"/><stop offset="0.074" stop-color="#fff8f8"/><stop offset="0.087" stop-color="#f9f9fe"/><stop offset="0.103" stop-color="#f0f0fe"/><stop offset="0.122" stop-color="#f0f0fe"/><stop offset="0.147" stop-color="#f0f0fe"/><stop offset="0.178" stop-color="#f0f0fe"/><stop offset="0.225" stop-color="#f0f0fe"/><stop offset="0.273" stop-color="#efeffe"/><stop offset="0.320" stop-color="#efeffe"/><stop offset="0.399" stop-color="#eeeefe"/><stop offset="0.493" stop-color="#ededfd"/><stop offset="0.572" stop-color="#e9e9fd"/><stop offset="0.619" stop-color="#e6e6fd"/><stop offset="0.682" stop-color="#e4e4fd"/><stop offset="0.745" stop-color="#e2e2fd"/><stop offset="0.776" stop-color="#e2e2fc"/><stop offset="0.871" stop-color="#e0e0fc"/><stop offset="0.934" stop-color="#e0e0fc"/><stop offset="0.965" stop-color="#e0e0fc"/><stop offset="0.981" stop-color="#e0e0fc"/><stop offset="1.000" stop-color="#e0e0fc"/></linearGradient><linearGradient id="r27" x1="0" x2="1" y1="0" y2="0"><stop offset="-0.001" stop-color="#ffdfdf"/><stop offset="0.021" stop-color="#ffdfdf"/><stop offset="0.037" stop-color="#ffe1e1"/><stop offset="0.049" stop-color="#ffe8e8"/><stop offset="0.062" stop-color="#fff3f3"/><stop offset="0.074" stop-color="#ffffff"/><stop offset="0.087" stop-color="#f4f4fe"/><stop offset="0.103" stop-color="#ececfd"/><stop offset="0.122" stop-color="#ececfd"/><stop offset="0.147" stop-color="#ececfd"/><stop offset="0.178" stop-color="#ececfd"/><stop offset="0.225" stop-color="#ececfd"/><stop offset="0.273" stop-color="#ececfd"/><stop offset="0.320" stop-color="#ebebfd"/><stop offset="0.399" stop-color="#eaeafd"/><stop offset="0.493" stop-color="#e8e8fd"/><stop offset="0.572" stop-color="#e5e5fd"/><stop offset="0.619" stop-color="#e2e2fd"/><stop offset="0.682" stop-color="#e0e0fc"/><stop offset="0.745" stop-color="#dedefc"/><stop offset="0.776" stop-color="#ddddfc"/><stop offset="0.871" stop-color="#dbdbfc"/><stop offset="0.934" stop-color="#dbdbfc"/><stop offset="0.965" stop-color="#dbdbfc"/><stop offset="0.981" stop-color="#dbdbfc"/><stop offset="1.000" stop-color="#dbdbfc"/></linearGradient><linearGradient id="r28" x1="0" x2="1" y1="0" y2="0"><stop offset="-0.001" stop-color="#ffecec"/><stop offset="0.021" stop-color="#ffecec"/><stop offset="0.037" stop-color="#ffeded"/><stop offset="0.049" stop-color="#fff3f3"/><stop offset="0.062" stop-color="#fffcfc"/><stop offset="0.074" stop-color="#f8f8fe"/><stop offset="0.087" stop-color="#f0f0fe"/><stop offset="0.103" stop-color="#e9e9fd"/><stop offset="0.122" stop-color="#e8e8fd"/><stop offset="0.147" stop-color="#e8e8fd"/><stop offset="0.178" stop-color="#e8e8fd"/><stop offset="0.225" stop-color="#e8e8fd"/><stop offset="0.273" stop-color="#e8e8fd"/><stop offset="0.320" stop-color="#e8e8fd"/><stop offset="0.399" stop-color="#e6e6fd"/><stop offset="0.493" stop-color="#e3e3fd"/><stop offset="0.572" stop-color="#dfdffc"/><stop offset="0.619" stop-color="#ddddfc"/><stop offset="0.682" stop-color="#dbdbfc"/><stop offset="0.745" stop-color="#d8d8fc"/><stop offset="0.776" stop-color="#d7d7fc"/><stop offset="0.871" stop-color="#d5d5fb"/><stop offset="0.934" stop-color="#d4d4fb"/><stop offset="0.965" stop-color="#d4d4fb"/><stop offset="0.981" stop-color="#d4d4fb"/><stop offset="1.000" stop-color="#d4d4fb"/></linearGradient><linearGradient id="r29" x1="0" x2="1" y1="0" y2="0"><stop offset="-0.001" stop-color="#fff4f4"/><stop offset="0.021" stop-color="#fff4f4"/><stop offset="0.037" stop-color="#fff6f6"/><stop offset="0.049" stop-color="#fffbfb"/><stop offset="0.062" stop-color="#fbfbff"/><stop offset="0.074" stop-color="#f3f3fe"/><stop offset="0.087" stop-color="#ebebfd"/><stop offset="0.103" stop-color="#e5e5fd"/><stop offset="0.122" stop-color="#e4e4fd"/><stop offset="0.147" stop-color="#e4e4fd"/><stop offset="0.178" stop-color="#e4e4fd"/><stop offset="0.225" stop-color="#e4e4fd"/><stop offset="0.273" stop-color="#e4e4fd"/><stop offset="0.320" stop-color="#e4e4fd"/><stop offset="0.399" stop-color="#e2e2fc"/><stop offset="0.493" stop-color="#dedefc"/><stop offset="0.572" stop-color="#dadafc"/><stop offset="0.619" stop-color="#d7d7fc"/><stop offset="0.682" stop-color="#d4d4fb"/><stop offset="0.745" stop-color="#d1d1fb"/><stop offset="0.776" stop-color="#cfcffb"/><stop offset="0.871" stop-color="#ccccfb"/><stop offset="0.934" stop-color="#cbcbfb"/><stop offset="0.965" stop-color="#cbcbfb"/><stop offset="0.981" stop-color="#cbcbfb"/><stop offset="1.000" stop-color="#cbcbfb"/></linearGradient><linearGradient id="r30" x1="0" x2="1" y1="0" y2="0"><stop offset="-0.001" stop-color="#fffafa"/><stop offset="0.021" stop-color="#fffafa"/><stop offset="0.037" stop-color="#fffbfb"/><stop offset="0.049" stop-color="#fefeff"/><stop offset="0.062" stop-color="#f6f6fe"/><stop offset="0.074" stop-color="#eeeefe"/><stop offset="0.087" stop-color="#e7e7fd"/><stop offset="0.103" stop-color="#e1e1fc"/><stop offset="0.122" stop-color="#e1e1fc"/><stop offset="0.147" stop-color="#e1e1fc"/><stop offset="0.178" stop-color="#e1e1fc"/><stop offset="0.225" stop-color="#e1e1fc"/><stop offset="0.273" stop-color="#e1e1fc"/><stop offset="0.320" stop-color="#e0e0fc"/><stop offset="0.399" stop-color="#ddddfc"/><stop offset="0.493" stop-color="#d8d8fc"/><stop offset="0.572" stop-color="#d3d3fb"/><stop offset="0.619" stop-color="#d0d0fb"/><stop offset="0.682" stop-color="#ccccfb"/><stop offset="0.745" stop-color="#c8c8fa"/><stop offset="0.776" stop-color="#c7c7fa"/><stop offset="0.871" stop-color="#c3c3fa"/><stop offset="0.934" stop-color="#c2c2fa"/><stop offset="0.965" stop-color="#c2c2fa"/><stop offset="0.981" stop-color="#c2c2fa"/><stop offset="1.000" stop-color="#c2c2fa"/></linearGradient><linearGradient id="r31" x1="0" x2="1" y1="0" y2="0"><stop offset="-0.001" stop-color="#ffffff"/><stop offset="0.021" stop-color="#ffffff"/><stop offset="0.037" stop-color="#fdfdff"/><stop offset="0.049" stop-color="#f9f9fe"/><stop offset="0.062" stop-color="#f2f2fe"/><stop offset="0.074" stop-color="#eaeafd"/><stop offset="0.087" stop-color="#e3e3fd"/><stop offset="0.103" stop-color="#ddddfc"/><stop offset="0.122" stop-color="#ddddfc"/><stop offset="0.147" stop-color="#ddddfc"/><stop offset="0.178" stop-color="#ddddfc"/><stop offset="0.225" stop-color="#ddddfc"/><stop offset="0.273" stop-color="#ddddfc"/><stop offset="0.320" stop-color="#dcdcfc"/><stop offset="0.399" stop-color="#d9d9fc"/><stop offset="0.493" stop-color="#d3d3fb"/><stop offset="0.572" stop-color="#cdcdfb"/><stop offset="0.619" stop-color="#cacafa"/><stop offset="0.682" stop-color="#c5c5fa"/><stop offset="0.745" stop-color="#c0c0fa"/><stop offset="0.776" stop-color="#bebef9"/><stop offset="0.871" stop-color="#babaf9"/><stop offset="0.934" stop-color="#b9b9f9"/><stop offset="0.965" stop-color="#b9b9f9"/><stop offset="0.981" stop-color="#b9b9f9"/><stop offset="1.000" stop-color="#b9b9f9"/></linearGradient><linearGradient id="r32" x1="0" x2="1" y1="0" y2="0"><stop offset="-0.001" stop-color="#f9f9ff"/><stop offset="0.021" stop-color="#f9f9ff"/><stop offset="0.037" stop-color="#f8f8fe"/><stop offset="0.049" stop-color="#f4f4fe"/><stop offset="0.062" stop-color="#ededfd"/><stop offset="0.074" stop-color="#e6e6fd"/><stop offset="0.087" stop-color="#e0e0fc"/><stop offset="0.103" stop-color="#dbdbfc"/><stop offset="0.122" stop-color="#dbdbfc"/><stop offset="0.147" stop-color="#dbdbfc"/><stop offset="0.178" stop-color="#dbdbfc"/><stop offset="0.225" stop-color="#dbdbfc"/><stop offset="0.273" stop-color="#dadafc"/><stop offset="0.320" stop-color="#dadafc"/><stop offset="0.399" stop-color="#d6d6fb"/><stop offset="0.493" stop-color="#cfcffb"/><stop offset="0.572" stop-color="#c8c8fa"/><stop offset="0.619" stop-color="#c4c4fa"/><stop offset="0.682" stop-color="#bebef9"/><stop offset="0.745" stop-color="#b9b9f9"/><stop offset="0.776" stop-color="#b7b7f9"/><stop offset="0.871" stop-color="#b2b2f8"/><stop offset="0.934" stop-color="#b1b1f8"/><stop offset="0.965" stop-color="#b1b1f8"/><stop offset="0.981" stop-color="#b1b1f8"/><stop offset="1.000" stop-color="#b1b1f8"/></linearGradient><linearGradient id="r33" x1="0" x2="1" y1="0" y2="0"><stop offset="-0.001" stop-color="#f7f7fe"/><stop offset="0.021" stop-color="#f7f7fe"/><stop offset="0.037" stop-color="#f6f6fe"/><stop offset="0.049" stop-color="#f2f2fe"/><stop offset="0.062" stop-color="#ebebfd"/><stop offset="0.074" stop-color="#e4e4fd"/><stop offset="0.087" stop-color="#dedefc"/><stop offset="0.103" stop-color="#d9d9fc"/><stop offset="0.122" stop-color="#d8d8fc"/><stop offset="0.147" stop-color="#d8d8fc"/><stop offset="0.178" stop-color="#d8d8fc"/><stop offset="0.225" stop-color="#d8d8fc"/><stop offset="0.273" stop-color="#d8d8fc"/><stop offset="0.320" stop-color="#d7d7fc"/><stop offset="0.399" stop-color="#d3d3fb"/><stop offset="0.493" stop-color="#cbcbfb"/><stop offset="0.572" stop-color="#c4c4fa"/><stop offset="0.619" stop-color="#bfbff9"/><stop offset="0.682" stop-color="#b8b8f9"/><stop offset="0.745" stop-color="#b3b3f8"/><stop offset="0.776" stop-color="#b0b0f8"/><stop offset="0.871" stop-color="#aaaaf8"/><stop offset="0.934" stop-color="#a9a9f8"/><stop offset="0.965" stop-color="#a8a8f8"/><stop offset="0.981" stop-color="#a8a8f8"/><stop offset="1.000" stop-color="#a8a8f8"/></linearGradient><linearGradient id="r34" x1="0" x2="1" y1="0" y2="0"><stop offset="-0.001" stop-color="#f7f7fe"/><stop offset="0.021" stop-color="#f7f7fe"/><stop offset="0.037" stop-color="#f5f5fe"/><stop offset="0.049" stop-color="#f1f1fe"/><stop offset="0.062" stop-color="#eaeafd"/><stop offset="0.074" stop-color="#e2e2fd"/><stop offset="0.087" stop-color="#dcdcfc"/><stop offset="0.103" stop-color="#d6d6fb"/><stop offset="0.122" stop-color="#d6d6fb"/><stop offset="0.147" stop-color="#d6d6fb"/><stop offset="0.178" stop-color="#d6d6fb"/><stop offset="0.225" stop-color="#d6d6fb"/><stop offset="0.273" stop-color="#d6d6fb"/><stop offset="0.320" stop-color="#d5d5fb"/><stop offset="0.399" stop-color="#d0d0fb"/><stop offset="0.493" stop-color="#c7c7fa"/><stop offset="0.572" stop-color="#bfbff9"/><stop offset="0.619" stop-color="#b9b9f9"/><stop offset="0.682" stop-color="#b2b2f8"/><stop offset="0.745" stop-color="#acacf8"/><stop offset="0.776" stop-color="#a9a9f8"/><stop offset="0.871" stop-color="#a3a3f7"/><stop offset="0.934" stop-color="#a1a1f7"/><stop offset="0.965" stop-color="#a1a1f7"/><stop offset="0.981" stop-color="#a1a1f7"/><stop offset="1.000" stop-color="#a1a1f7"/></linearGradient><linearGradient id="r35" x1="0" x2="1" y1="0" y2="0"><stop offset="-0.001" stop-color="#f6f6fe"/><stop offset="0.021" stop-color="#f6f6fe"/><stop offset="0.037" stop-color="#f4f4fe"/><stop offset="0.049" stop-color="#f0f0fe"/><stop offset="0.062" stop-color="#e8e8fd"/><stop offset="0.074" stop-color="#e1e1fc"/><stop offset="0.087" stop-color="#d9d9fc"/><stop offset="0.103" stop-color="#d4d4fb"/><stop offset="0.122" stop-color="#d3d3fb"/><stop offset="0.147" stop-color="#d3d3fb"/><stop offset="0.178" stop-color="#d3d3fb"/><stop offset="0.225" stop-color="#d3d3fb"/><stop offset="0.273" stop-color="#d3d3fb"/><stop offset="0.320" stop-color="#d2d2fb"/><stop offset="0.399" stop-color="#cdcdfb"/><stop offset="0.493" stop-color="#c4c4fa"/><stop offset="0.572" stop-color="#babaf9"/><stop offset="0.619" stop-color="#b4b4f9"/><stop offset="0.682" stop-color="#adadf8"/><stop offset="0.745" stop-color="#a5a5f7"/><stop offset="0.776" stop-color="#a2a2f7"/><stop offset="0.871" stop-color="#9b9bf6"/><stop offset="0.934" stop-color="#9999f6"/><stop offset="0.965" stop-color="#9999f6"/><stop offset="0.981" stop-color="#9999f6"/><stop offset="1.000" stop-color="#9999f6"/></linearGradient><linearGradient id="r36" x1="0" x2="1" y1="0" y2="0"><stop offset="-0.001" stop-color="#f5f5fe"/><stop offset="0.021" stop-color="#f5f5fe"/><stop offset="0.037" stop-color="#f3f3fe"/><stop offset="0.049" stop-color="#eeeefe"/><stop offset="0.062" stop-color="#e7e7fd"/><stop offset="0.074" stop-color="#dfdffc"/><stop offset="0.087" stop-color="#d7d7fc"/><stop offset="0.103" stop-color="#d2d2fb"/><stop offset="0.122" stop-color="#d1d1fb"/><stop offset="0.147" stop-color="#d1d1fb"/><stop offset="0.178" stop-color="#d1d1fb"/><stop offset="0.225" stop-color="#d1d1fb"/><stop offset="0.273" stop-color="#d1d1fb"/><stop offset="0.320" stop-color="#d0d0fb"/><stop offset="0.399" stop-color="#cacafa"/><stop offset="0.493" stop-color="#c0c0fa"/><stop offset="0.572" stop-color="#b6b6f9"/><stop offset="0.619" stop-color="#afaff8"/><stop offset="0.682" stop-color="#a7a7f7"/><stop offset="0.745" stop-color="#9f9ff7"/><stop offset="0.776" stop-color="#9c9cf6"/><stop offset="0.871" stop-color="#9494f6"/><stop offset="0.934" stop-color="#9292f6"/><stop offset="0.965" stop-color="#9292f6"/><stop offset="0.981" stop-color="#9292f6"/><stop offset="1.000" stop-color="#9292f6"/></linearGradient><linearGradient id="r37" x1="0" x2="1" y1="0" y2="0"><stop offset="-0.001" stop-color="#f4f4fe"/><stop offset="0.021" stop-color="#f4f4fe"/><stop offset="0.037" stop-color="#f2f2fe"/><stop offset="0.049" stop-color="#ededfd"/><stop offset="0.062" stop-color="#e5e5fd"/><stop offset="0.074" stop-color="#ddddfc"/><stop offset="0.087" stop-color="#d5d5fb"/><stop offset="0.103" stop-color="#cfcffb"/><stop offset="0.122" stop-color="#cfcffb"/><stop offset="0.147" stop-color="#cfcffb"/><stop offset="0.178" stop-color="#cfcffb"/><stop offset="0.225" stop-color="#cfcffb"/><stop offset="0.273" stop-color="#cecefb"/><stop offset="0.320" stop-color="#cdcdfb"/><stop offset="0.399" stop-color="#c7c7fa"/><stop offset="0.493" stop-color="#bdbdf9"/><stop offset="0.572" stop-color="#b2b2f8"/><stop offset="0.619" stop-color="#ababf8"/><stop offset="0.682" stop-color="#a2a2f7"/><stop offset="0.745" stop-color="#9a9af6"/><stop offset="0.776" stop-color="#9696f6"/><stop offset="0.871" stop-color="#8e8ef5"/><stop offset="0.934" stop-color="#8c8cf5"/><stop offset="0.965" stop-color="#8c8cf5"/><stop offset="0.981" stop-color="#8c8cf5"/><stop offset="1.000" stop-color="#8c8cf5"/></linearGradient><linearGradient id="r38" x1="0" x2="1" y1="0" y2="0"><stop offset="-0.001" stop-color="#f3f3fe"/><stop offset="0.021" stop-color="#f3f3fe"/><stop offset="0.037" stop-color="#f2f2fe"/><stop offset="0.049" stop-color="#ececfd"/><stop offset="0.062" stop-color="#e4e4fd"/><stop offset="0.074" stop-color="#dbdbfc"/><stop offset="0.087" stop-color="#d3d3fb"/><stop offset="0.103" stop-color="#cdcdfb"/><stop offset="0.122" stop-color="#ccccfb"/><stop offset="0.147" stop-color="#ccccfb"/><stop offset="0.178" stop-color="#ccccfb"/><stop offset="0.225" stop-color="#ccccfb"/><stop offset="0.273" stop-color="#ccccfb"/><stop offset="0.320" stop-color="#cbcbfa"/><stop offset="0.399" stop-color="#c5c5fa"/><stop offset="0.493" stop-color="#b9b9f9"/><stop offset="0.572" stop-color="#aeaef8"/><stop offset="0.619" stop-color="#a7a7f7"/><stop offset="0.682" stop-color="#9d9df7"/><stop offset="0.745" stop-color="#9595f6"/><stop offset="0.776" stop-color="#9191f6"/><stop offset="0.871" stop-color="#8989f5"/><stop offset="0.934" stop-color="#8686f5"/><stop offset="0.965" stop-color="#8686f5"/><stop offset="0.981" stop-color="#8686f5"/><stop offset="1.000" stop-color="#8686f5"/></linearGradient><linearGradient id="r39" x1="0" x2="1" y1="0" y2="0"><stop offset="-0.001" stop-color="#f2f2fe"/><stop offset="0.021" stop-color="#f2f2fe"/><stop offset="0.037" stop-color="#f1f1fe"/><stop offset="0.049" stop-color="#ebebfd"/><stop offset="0.062" stop-color="#e3e3fd"/><stop offset="0.074" stop-color="#d9d9fc"/><stop offset="0.087" stop-color="#d1d1fb"/><stop offset="0.103" stop-color="#cbcbfa"/><stop offset="0.122" stop-color="#cacafa"/><stop offset="0.147" stop-color="#cacafa"/><stop offset="0.178" stop-color="#cacafa"/><stop offset="0.225" stop-color="#cacafa"/><stop offset="0.273" stop-color="#cacafa"/><stop offset="0.320" stop-color="#c8c8fa"/><stop offset="0.399" stop-color="#c2c2fa"/><stop offset="0.493" stop-color="#b6b6f9"/><stop offset="0.572" stop-color="#aaaaf8"/><stop offset="0.619" stop-color="#a3a3f7"/><stop offset="0.682" stop-color="#9999f6"/><stop offset="0.745" stop-color="#9090f5"/><stop offset="0.776" stop-color="#8c8cf5"/><stop offset="0.871" stop-color="#8484f4"/><stop offset="0.934" stop-color="#8181f4"/><stop offset="0.965" stop-color="#8181f4"/><stop offset="0.981" stop-color="#8181f4"/><stop offset="1.000" stop-color="#8181f4"/></linearGradient><linearGradient id="r40" x1="0" x2="1" y1="0" y2="0"><stop offset="-0.001" stop-color="#f1f1fe"/><stop offset="0.021" stop-color="#f1f1fe"/><stop offset="0.037" stop-color="#f0f0fe"/><stop offset="0.049" stop-color="#eaeafd"/><stop offset="0.062" stop-color="#e1e1fc"/><stop offset="0.074" stop-color="#d8d8fc"/><stop offset="0.087" stop-color="#cfcffb"/><stop offset="0.103" stop-color="#c8c8fa"/><stop offset="0.122" stop-color="#c7c7fa"/><stop offset="0.147" stop-color="#c7c7fa"/><stop offset="0.178" stop-color="#c7c7fa"/><stop offset="0.225" stop-color="#c7c7fa"/><stop offset="0.273" stop-color="#c7c7fa"/><stop offset="0.320" stop-color="#c6c6fa"/><stop offset="0.399" stop-color="#bfbffa"/><stop offset="0.493" stop-color="#b3b3f8"/><stop offset="0.572" stop-color="#a7a7f7"/><stop offset="0.619" stop-color="#a0a0f7"/><stop offset="0.682" stop-color="#9696f6"/><stop offset="0.745" stop-color="#8d8df5"/><stop offset="0.776" stop-color="#8989f5"/><stop offset="0.871" stop-color="#8080f4"/><stop offset="0.934" stop-color="#7d7df4"/><stop offset="0.965" stop-color="#7d7df4"/><stop offset="0.981" stop-color="#7d7df4"/><stop offset="1.000" stop-color="#7d7df4"/></linearGradient><linearGradient id="r41" x1="0" x2="1" y1="0" y2="0"><stop offset="-0.001" stop-color="#f0f0fe"/><stop offset="0.021" stop-color="#f0f0fe"/><stop offset="0.037" stop-color="#efeffe"/><stop offset="0.049" stop-color="#e9e9fd"/><stop offset="0.062" stop-color="#e0e0fc"/><stop offset="0.074" stop-color="#d6d6fb"/><stop offset="0.087" stop-color="#cdcdfb"/><stop offset="0.103" stop-color="#c6c6fa"/><stop offset="0.122" stop-color="#c5c5fa"/><stop offset="0.147" stop-color="#c5c5fa"/><stop offset="0.178" stop-color="#c5c5fa"/><stop offset="0.225" stop-color="#c5c5fa"/><stop offset="0.273" stop-color="#c5c5fa"/><stop offset="0.320" stop-color="#c3c3fa"/><stop offset="0.399" stop-color="#bdbdf9"/><stop offset="0.493" stop-color="#b1b1f8"/><stop offset="0.572" stop-color="#a5a5f7"/><stop offset="0.619" stop-color="#9d9df7"/><stop offset="0.682" stop-color="#9393f6"/><stop offset="0.745" stop-color="#8a8af5"/><stop offset="0.776" stop-color="#8686f5"/><stop offset="0.871" stop-color="#7d7df4"/><stop offset="0.934" stop-color="#7a7af4"/><stop offset="0.965" stop-color="#7a7af4"/><stop offset="0.981" stop-color="#7a7af4"/><stop offset="1.000" stop-color="#7a7af4"/></linearGradient><linearGradient id="r42" x1="0" x2="1" y1="0" y2="0"><stop offset="-0.001" stop-color="#efeffe"/><stop offset="0.021" stop-color="#efeffe"/><stop offset="0.037" stop-color="#eeeefe"/><stop offset="0.049" stop-color="#e7e7fd"/><stop offset="0.062" stop-color="#dedefc"/><stop offset="0.074" stop-color="#d4d4fb"/><stop offset="0.087" stop-color="#cbcbfb"/><stop offset="0.103" stop-color="#c4c4fa"/><stop offset="0.122" stop-color="#c3c3fa"/><stop offset="0.147" stop-color="#c3c3fa"/><stop offset="0.178" stop-color="#c3c3fa"/><stop offset="0.225" stop-color="#c3c3fa"/><stop offset="0.273" stop-color="#c3c3fa"/><stop offset="0.320" stop-color="#c2c2fa"/><stop offset="0.399" stop-color="#bbbbf9"/><stop offset="0.493" stop-color="#afaff8"/><stop offset="0.572" stop-color="#a3a3f7"/><stop offset="0.619" stop-color="#9b9bf6"/><stop offset="0.682" stop-color="#9191f6"/><stop offset="0.745" stop-color="#8888f5"/><stop offset="0.776" stop-color="#8484f4"/><stop offset="0.871" stop-color="#7b7bf4"/><stop offset="0.934" stop-color="#7979f3"/><stop offset="0.965" stop-color="#7979f3"/><stop offset="0.981" stop-color="#7979f3"/><stop offset="1.000" stop-color="#7979f3"/></linearGradient><linearGradient id="r43" x1="0" x2="1" y1="0" y2="0"><stop offset="-0.001" stop-color="#eeeefe"/><stop offset="0.021" stop-color="#eeeefe"/><stop offset="0.037" stop-color="#ededfd"/><stop offset="0.049" stop-color="#e6e6fd"/><stop offset="0.062" stop-color="#ddddfc"/><stop offset="0.074" stop-color="#d3d3fb"/><stop offset="0.087" stop-color="#cacafa"/><stop offset="0.103" stop-color="#c2c2fa"/><stop offset="0.122" stop-color="#c2c2fa"/><stop offset="0.147" stop-color="#c2c2fa"/><stop offset="0.178" stop-color="#c2c2fa"/><stop offset="0.225" stop-color="#c2c2fa"/><stop offset="0.273" stop-color="#c2c2fa"/><stop offset="0.320" stop-color="#c0c0fa"/><stop offset="0.399" stop-color="#babaf9"/><stop offset="0.493" stop-color="#aeaef8"/><stop offset="0.572" stop-color="#a1a1f7"/><stop offset="0.619" stop-color="#9a9af6"/><stop offset="0.682" stop-color="#9090f5"/><stop offset="0.745" stop-color="#8787f5"/><stop offset="0.776" stop-color="#8383f4"/><stop offset="0.871" stop-color="#7a7af3"/><stop offset="0.934" stop-color="#7777f3"/><stop offset="0.965" stop-color="#7777f3"/><stop offset="0.981" stop-color="#7777f3"/><stop offset="1.000" stop-color="#7777f3"/></linearGradient><linearGradient id="r44" x1="0" x2="1" y1="0" y2="0"><stop offset="-0.001" stop-color="#eeeefe"/><stop offset="0.021" stop-color="#eeeefe"/><stop offset="0.037" stop-color="#ececfd"/><stop offset="0.049" stop-color="#e6e6fd"/><stop offset="0.062" stop-color="#dcdcfc"/><stop offset="0.074" stop-color="#d2d2fb"/><stop offset="0.087" stop-color="#c8c8fa"/><stop offset="0.103" stop-color="#c1c1fa"/><stop offset="0.122" stop-color="#c0c0fa"/><stop offset="0.147" stop-color="#c0c0fa"/><stop offset="0.178" stop-color="#c0c0fa"/><stop offset="0.225" stop-color="#c0c0fa"/><stop offset="0.273" stop-color="#c0c0fa"/><stop offset="0.320" stop-color="#bebef9"/><stop offset="0.399" stop-color="#b8b8f9"/><stop offset="0.493" stop-color="#acacf8"/><stop offset="0.572" stop-color="#a0a0f7"/><stop offset="0.619" stop-color="#9898f6"/><stop offset="0.682" stop-color="#8e8ef5"/><stop offset="0.745" stop-color="#8585f4"/><stop offset="0.776" stop-color="#8181f4"/><stop offset="0.871" stop-color="#7878f3"/><stop offset="0.934" stop-color="#7575f3"/><stop offset="0.965" stop-color="#7575f3"/><stop offset="0.981" stop-color="#7575f3"/><stop offset="1.000" stop-color="#7575f3"/></linearGradient><linearGradient id="r45" x1="0" x2="1" y1="0" y2="0"><stop offset="-0.001" stop-color="#eeeefd"/><stop offset="0.021" stop-color="#eeeefd"/><stop offset="0.037" stop-color="#ececfd"/><stop offset="0.049" stop-color="#e5e5fd"/><stop offset="0.062" stop-color="#dbdbfc"/><stop offset="0.074" stop-color="#d1d1fb"/><stop offset="0.087" stop-color="#c7c7fa"/><stop offset="0.103" stop-color="#bfbff9"/><stop offset="0.122" stop-color="#bebef9"/><stop offset="0.147" stop-color="#bebef9"/><stop offset="0.178" stop-color="#bebef9"/><stop offset="0.225" stop-color="#bebef9"/><stop offset="0.273" stop-color="#bebef9"/><stop offset="0.320" stop-color="#bdbdf9"/><stop offset="0.399" stop-color="#b6b6f9"/><stop offset="0.493" stop-color="#aaaaf8"/><stop offset="0.572" stop-color="#9e9ef7"/><stop offset="0.619" stop-color="#9696f6"/><stop offset="0.682" stop-color="#8c8cf5"/><stop offset="0.745" stop-color="#8383f4"/><stop offset="0.776" stop-color="#7f7ff4"/><stop offset="0.871" stop-color="#7676f3"/><stop offset="0.934" stop-color="#7474f3"/><stop offset="0.965" stop-color="#7474f3"/><stop offset="0.981" stop-color="#7474f3"/><stop offset="1.000" stop-color="#7474f3"/></linearGradient><linearGradient id="r46" x1="0" x2="1" y1="0" y2="0"><stop offset="-0.001" stop-color="#ededfd"/><stop offset="0.021" stop-color="#ededfd"/><stop offset="0.037" stop-color="#ebebfd"/><stop offset="0.049" stop-color="#e5e5fd"/><stop offset="0.062" stop-color="#dadafc"/><stop offset="0.074" stop-color="#cfcffb"/><stop offset="0.087" stop-color="#c5c5fa"/><stop offset="0.103" stop-color="#bdbdf9"/><stop offset="0.122" stop-color="#bdbdf9"/><stop offset="0.147" stop-color="#bdbdf9"/><stop offset="0.178" stop-color="#bdbdf9"/><stop offset="0.225" stop-color="#bdbdf9"/><stop offset="0.273" stop-color="#bdbdf9"/><stop offset="0.320" stop-color="#bbbbf9"/><stop offset="0.399" stop-color="#b5b5f9"/><stop offset="0.493" stop-color="#a8a8f8"/><stop offset="0.572" stop-color="#9c9cf6"/><stop offset="0.619" stop-color="#9595f6"/><stop offset="0.682" stop-color="#8b8bf5"/><stop offset="0.745" stop-color="#8282f4"/><stop offset="0.776" stop-color="#7e7ef4"/><stop offset="0.871" stop-color="#7474f3"/><stop offset="0.934" stop-color="#7272f3"/><stop offset="0.965" stop-color="#7272f3"/><stop offset="0.981" stop-color="#7272f3"/><stop offset="1.000" stop-color="#7272f3"/></linearGradient><linearGradient id="r47" x1="0" x2="1" y1="0" y2="0"><stop offset="-0.001" stop-color="#ededfd"/><stop offset="0.021" stop-color="#ededfd"/><stop offset="0.037" stop-color="#ebebfd"/><stop offset="0.049" stop-color="#e4e4fd"/><stop offset="0.062" stop-color="#dadafc"/><stop offset="0.074" stop-color="#cecefb"/><stop offset="0.087" stop-color="#c4c4fa"/><stop offset="0.103" stop-color="#bcbcf9"/><stop offset="0.122" stop-color="#bbbbf9"/><stop offset="0.147" stop-color="#bbbbf9"/><stop offset="0.178" stop-color="#bbbbf9"/><stop offset="0.225" stop-color="#bbbbf9"/><stop offset="0.273" stop-color="#bbbbf9"/><stop offset="0.320" stop-color="#b9b9f9"/><stop offset="0.399" stop-color="#b3b3f8"/><stop offset="0.493" stop-color="#a7a7f7"/><stop offset="0.572" stop-color="#9b9bf6"/><stop offset="0.619" stop-color="#9393f6"/><stop offset="0.682" stop-color="#8989f5"/><stop offset="0.745" stop-color="#8080f4"/><stop offset="0.776" stop-color="#7c7cf4"/><stop offset="0.871" stop-color="#7373f3"/><stop offset="0.934" stop-color="#7070f3"/><stop offset="0.965" stop-color="#7070f3"/><stop offset="0.981" stop-color="#7070f3"/><stop offset="1.000" stop-color="#7070f3"/></linearGradient><linearGradient id="r48" x1="0" x2="1" y1="0" y2="0"><stop offset="-0.001" stop-color="#ededfd"/><stop offset="0.021" stop-color="#ededfd"/><stop offset="0.037" stop-color="#ebebfd"/><stop offset="0.049" stop-color="#e3e3fd"/><stop offset="0.062" stop-color="#d9d9fc"/><stop offset="0.074" stop-color="#cdcdfb"/><stop offset="0.087" stop-color="#c2c2fa"/><stop offset="0.103" stop-color="#babaf9"/><stop offset="0.122" stop-color="#b9b9f9"/><stop offset="0.147" stop-color="#b9b9f9"/><stop offset="0.178" stop-color="#b9b9f9"/><stop offset="0.225" stop-color="#b9b9f9"/><stop offset="0.273" stop-color="#b9b9f9"/><stop offset="0.320" stop-color="#b7b7f9"/><stop offset="0.399" stop-color="#b1b1f8"/><stop offset="0.493" stop-color="#a5a5f7"/><stop offset="0.572" stop-color="#9999f6"/><stop offset="0.619" stop-color="#9191f6"/><stop offset="0.682" stop-color="#8787f5"/><stop offset="0.745" stop-color="#7e7ef4"/><stop offset="0.776" stop-color="#7a7af4"/><stop offset="0.871" stop-color="#7171f3"/><stop offset="0.934" stop-color="#6f6ff3"/><stop offset="0.965" stop-color="#6e6ef3"/><stop offset="0.981" stop-color="#6e6ef3"/><stop offset="1.000" stop-color="#6e6ef3"/></linearGradient><linearGradient id="r49" x1="0" x2="1" y1="0" y2="0"><stop offset="-0.001" stop-color="#ececfd"/><stop offset="0.021" stop-color="#ececfd"/><stop offset="0.037" stop-color="#eaeafd"/><stop offset="0.049" stop-color="#e3e3fd"/><stop offset="0.062" stop-color="#d8d8fc"/><stop offset="0.074" stop-color="#ccccfb"/><stop offset="0.087" stop-color="#c1c1fa"/><stop offset="0.103" stop-color="#b8b8f9"/><stop offset="0.122" stop-color="#b8b8f9"/><stop offset="0.147" stop-color="#b8b8f9"/><stop offset="0.178" stop-color="#b8b8f9"/><stop offset="0.225" stop-color="#b8b8f9"/><stop offset="0.273" stop-color="#b7b7f9"/><stop offset="0.320" stop-color="#b6b6f9"/><stop offset="0.399" stop-color="#afaff8"/><stop offset="0.493" stop-color="#a3a3f7"/><stop offset="0.572" stop-color="#9797f6"/><stop offset="0.619" stop-color="#9090f5"/><stop offset="0.682" stop-color="#8686f5"/><stop offset="0.745" stop-color="#7c7cf4"/><stop offset="0.776" stop-color="#7878f3"/><stop offset="0.871" stop-color="#6f6ff3"/><stop offset="0.934" stop-color="#6d6df2"/><stop offset="0.965" stop-color="#6d6df2"/><stop offset="0.981" stop-color="#6d6df2"/><stop offset="1.000" stop-color="#6d6df2"/></linearGradient><linearGradient id="r50" x1="0" x2="1" y1="0" y2="0"><stop offset="-0.001" stop-color="#ececfd"/><stop offset="0.021" stop-color="#ececfd"/><stop offset="0.037" stop-color="#eaeafd"/><stop offset="0.049" stop-color="#e2e2fd"/><stop offset="0.062" stop-color="#d7d7fc"/><stop offset="0.074" stop-color="#cbcbfa"/><stop offset="0.087" stop-color="#bfbffa"/><stop offset="0.103" stop-color="#b7b7f9"/><stop offset="0.122" stop-color="#b6b6f9"/><stop offset="0.147" stop-color="#b6b6f9"/><stop offset="0.178" stop-color="#b6b6f9"/><stop offset="0.225" stop-color="#b6b6f9"/><stop offset="0.273" stop-color="#b6b6f9"/><stop offset="0.320" stop-color="#b4b4f9"/><stop offset="0.399" stop-color="#aeaef8"/><stop offset="0.493" stop-color="#a2a2f7"/><stop offset="0.572" stop-color="#9696f6"/><stop offset="0.619" stop-color="#8e8ef5"/><stop offset="0.682" stop-color="#8484f4"/><stop offset="0.745" stop-color="#7b7bf4"/><stop offset="0.776" stop-color="#7777f3"/><stop offset="0.871" stop-color="#6e6ef2"/><stop offset="0.934" stop-color="#6b6bf2"/><stop offset="0.965" stop-color="#6b6bf2"/><stop offset="0.981" stop-color="#6b6bf2"/><stop offset="1.000" stop-color="#6b6bf2"/></linearGradient><linearGradient id="r51" x1="0" x2="1" y1="0" y2="0"><stop offset="-0.001" stop-color="#ececfd"/><stop offset="0.021" stop-color="#ececfd"/><stop offset="0.037" stop-color="#eaeafd"/><stop offset="0.049" stop-color="#e2e2fc"/><stop offset="0.062" stop-color="#d6d6fb"/><stop offset="0.074" stop-color="#cacafa"/><stop offset="0.087" stop-color="#bebef9"/><stop offset="0.103" stop-color="#b5b5f9"/><stop offset="0.122" stop-color="#b4b4f9"/><stop offset="0.147" stop-color="#b4b4f9"/><stop offset="0.178" stop-color="#b4b4f9"/><stop offset="0.225" stop-color="#b4b4f9"/><stop offset="0.273" stop-color="#b4b4f9"/><stop offset="0.320" stop-color="#b2b2f8"/><stop offset="0.399" stop-color="#acacf8"/><stop offset="0.493" stop-color="#a0a0f7"/><stop offset="0.572" stop-color="#9494f6"/><stop offset="0.619" stop-color="#8c8cf5"/><stop offset="0.682" stop-color="#8282f4"/><stop offset="0.745" stop-color="#7979f3"/><stop offset="0.776" stop-color="#7575f3"/><stop offset="0.871" stop-color="#6c6cf2"/><stop offset="0.934" stop-color="#6969f2"/><stop offset="0.965" stop-color="#6969f2"/><stop offset="0.981" stop-color="#6969f2"/><stop offset="1.000" stop-color="#6969f2"/></linearGradient><linearGradient id="r52" x1="0" x2="1" y1="0" y2="0"><stop offset="-0.001" stop-color="#ebebfd"/><stop offset="0.021" stop-color="#ebebfd"/><stop offset="0.037" stop-color="#e9e9fd"/><stop offset="0.049" stop-color="#e2e2fc"/><stop offset="0.062" stop-color="#d6d6fb"/><stop offset="0.074" stop-color="#c9c9fa"/><stop offset="0.087" stop-color="#bebef9"/><stop offset="0.103" stop-color="#b5b5f9"/><stop offset="0.122" stop-color="#b4b4f9"/><stop offset="0.147" stop-color="#b4b4f9"/><stop offset="0.178" stop-color="#b4b4f9"/><stop offset="0.225" stop-color="#b4b4f9"/><stop offset="0.273" stop-color="#b4b4f8"/><stop offset="0.320" stop-color="#b2b2f8"/><stop offset="0.399" stop-color="#acacf8"/><stop offset="0.493" stop-color="#a0a0f7"/><stop offset="0.572" stop-color="#9393f6"/><stop offset="0.619" stop-color="#8c8cf5"/><stop offset="0.682" stop-color="#8282f4"/><stop offset="0.745" stop-color="#7979f3"/><stop offset="0.776" stop-color="#7575f3"/><stop offset="0.871" stop-color="#6c6cf2"/><stop offset="0.934" stop-color="#6969f2"/><stop offset="0.965" stop-color="#6969f2"/><stop offset="0.981" stop-color="#6969f2"/><stop offset="1.000" stop-color="#6969f2"/></linearGradient><linearGradient id="r53" x1="0" x2="1" y1="0" y2="0"><stop offset="-0.001" stop-color="#ebebfd"/><stop offset="0.021" stop-color="#ebebfd"/><stop offset="0.037" stop-color="#e9e9fd"/><stop offset="0.049" stop-color="#e1e1fc"/><stop offset="0.062" stop-color="#d6d6fb"/><stop offset="0.074" stop-color="#c9c9fa"/><stop offset="0.087" stop-color="#bdbdf9"/><stop offset="0.103" stop-color="#b4b4f9"/><stop offset="0.122" stop-color="#b3b3f8"/><stop offset="0.147" stop-color="#b3b3f8"/><stop offset="0.178" stop-color="#b3b3f8"/><stop offset="0.225" stop-color="#b3b3f8"/><stop offset="0.273" stop-color="#b3b3f8"/><stop offset="0.320" stop-color="#b2b2f8"/><stop offset="0.399" stop-color="#ababf8"/><stop offset="0.493" stop-color="#9f9ff7"/><stop offset="0.572" stop-color="#9393f6"/><stop offset="0.619" stop-color="#8b8bf5"/><stop offset="0.682" stop-color="#8181f4"/><stop offset="0.745" stop-color="#7878f3"/><stop offset="0.776" stop-color="#7474f3"/><stop offset="0.871" stop-color="#6b6bf2"/><stop offset="0.934" stop-color="#6969f2"/><stop offset="0.965" stop-color="#6969f2"/><stop offset="0.981" stop-color="#6969f2"/><stop offset="1.000" stop-color="#6969f2"/></linearGradient><linearGradient id="r54" x1="0" x2="1" y1="0" y2="0"><stop offset="-0.001" stop-color="#ebebfd"/><stop offset="0.021" stop-color="#ebebfd"/><stop offset="0.037" stop-color="#e9e9fd"/><stop offset="0.049" stop-color="#e1e1fc"/><stop offset="0.062" stop-color="#d5d5fb"/><stop offset="0.074" stop-color="#c8c8fa"/><stop offset="0.087" stop-color="#bdbdf9"/><stop offset="0.103" stop-color="#b4b4f9"/><stop offset="0.122" stop-color="#b3b3f8"/><stop offset="0.147" stop-color="#b3b3f8"/><stop offset="0.178" stop-color="#b3b3f8"/><stop offset="0.225" stop-color="#b3b3f8"/><stop offset="0.273" stop-color="#b3b3f8"/><stop offset="0.320" stop-color="#b1b1f8"/><stop offset="0.399" stop-color="#ababf8"/><stop offset="0.493" stop-color="#9f9ff7"/><stop offset="0.572" stop-color="#9393f6"/><stop offset="0.619" stop-color="#8b8bf5"/><stop offset="0.682" stop-color="#8181f4"/><stop offset="0.745" stop-color="#7878f3"/><stop offset="0.776" stop-color="#7474f3"/><stop offset="0.871" stop-color="#6b6bf2"/><stop offset="0.934" stop-color="#6868f2"/><stop offset="0.965" stop-color="#6868f2"/><stop offset="0.981" stop-color="#6868f2"/><stop offset="1.000" stop-color="#6868f2"/></linearGradient><linearGradient id="r55" x1="0" x2="1" y1="0" y2="0"><stop offset="-0.001" stop-color="#ebebfd"/><stop offset="0.021" stop-color="#ebebfd"/><stop offset="0.037" stop-color="#e9e9fd"/><stop offset="0.049" stop-color="#e1e1fc"/><stop offset="0.062" stop-color="#d5d5fb"/><stop offset="0.074" stop-color="#c8c8fa"/><stop offset="0.087" stop-color="#bdbdf9"/><stop offset="0.103" stop-color="#b3b3f8"/><stop offset="0.122" stop-color="#b2b2f8"/><stop offset="0.147" stop-color="#b2b2f8"/><stop offset="0.178" stop-color="#b2b2f8"/><stop offset="0.225" stop-color="#b2b2f8"/><stop offset="0.273" stop-color="#b2b2f8"/><stop offset="0.320" stop-color="#b1b1f8"/><stop offset="0.399" stop-color="#aaaaf8"/><stop offset="0.493" stop-color="#9e9ef7"/><stop offset="0.572" stop-color="#9292f6"/><stop offset="0.619" stop-color="#8b8bf5"/><stop offset="0.682" stop-color="#8181f4"/><stop offset="0.745" stop-color="#7777f3"/><stop offset="0.776" stop-color="#7373f3"/><stop offset="0.871" stop-color="#6a6af2"/><stop offset="0.934" stop-color="#6868f2"/><stop offset="0.965" stop-color="#6868f2"/><stop offset="0.981" stop-color="#6868f2"/><stop offset="1.000" stop-color="#6868f2"/></linearGradient></defs>
<g clip-path="url(#hm)"><rect x="103.4" y="524.2" width="317.6" height="4.6" fill="url(#r0)"/><rect x="103.4" y="528.2" width="317.6" height="4.6" fill="url(#r1)"/><rect x="103.4" y="532.2" width="317.6" height="4.6" fill="url(#r2)"/><rect x="103.4" y="536.2" width="317.6" height="4.6" fill="url(#r3)"/><rect x="103.4" y="540.2" width="317.6" height="4.6" fill="url(#r4)"/><rect x="103.4" y="544.2" width="317.6" height="4.6" fill="url(#r5)"/><rect x="103.4" y="548.2" width="317.6" height="4.6" fill="url(#r6)"/><rect x="103.4" y="552.2" width="317.6" height="4.6" fill="url(#r7)"/><rect x="103.4" y="556.2" width="317.6" height="4.6" fill="url(#r8)"/><rect x="103.4" y="560.2" width="317.6" height="4.6" fill="url(#r9)"/><rect x="103.4" y="564.2" width="317.6" height="4.6" fill="url(#r10)"/><rect x="103.4" y="568.2" width="317.6" height="4.6" fill="url(#r11)"/><rect x="103.4" y="572.2" width="317.6" height="4.6" fill="url(#r12)"/><rect x="103.4" y="576.2" width="317.6" height="4.6" fill="url(#r13)"/><rect x="103.4" y="580.2" width="317.6" height="4.6" fill="url(#r14)"/><rect x="103.4" y="584.2" width="317.6" height="4.6" fill="url(#r15)"/><rect x="103.4" y="588.2" width="317.6" height="4.6" fill="url(#r16)"/><rect x="103.4" y="592.2" width="317.6" height="4.6" fill="url(#r17)"/><rect x="103.4" y="596.2" width="317.6" height="4.6" fill="url(#r18)"/><rect x="103.4" y="600.2" width="317.6" height="4.6" fill="url(#r19)"/><rect x="103.4" y="604.2" width="317.6" height="4.6" fill="url(#r20)"/><rect x="103.4" y="608.2" width="317.6" height="4.6" fill="url(#r21)"/><rect x="103.4" y="612.2" width="317.6" height="4.6" fill="url(#r22)"/><rect x="103.4" y="616.2" width="317.6" height="4.6" fill="url(#r23)"/><rect x="103.4" y="620.2" width="317.6" height="4.6" fill="url(#r24)"/><rect x="103.4" y="624.2" width="317.6" height="4.6" fill="url(#r25)"/><rect x="103.4" y="628.2" width="317.6" height="4.6" fill="url(#r26)"/><rect x="103.4" y="632.2" width="317.6" height="4.6" fill="url(#r27)"/><rect x="103.4" y="636.2" width="317.6" height="4.6" fill="url(#r28)"/><rect x="103.4" y="640.2" width="317.6" height="4.6" fill="url(#r29)"/><rect x="103.4" y="644.2" width="317.6" height="4.6" fill="url(#r30)"/><rect x="103.4" y="648.2" width="317.6" height="4.6" fill="url(#r31)"/><rect x="103.4" y="652.2" width="317.6" height="4.6" fill="url(#r32)"/><rect x="103.4" y="656.2" width="317.6" height="4.6" fill="url(#r33)"/><rect x="103.4" y="660.2" width="317.6" height="4.6" fill="url(#r34)"/><rect x="103.4" y="664.2" width="317.6" height="4.6" fill="url(#r35)"/><rect x="103.4" y="668.2" width="317.6" height="4.6" fill="url(#r36)"/><rect x="103.4" y="672.2" width="317.6" height="4.6" fill="url(#r37)"/><rect x="103.4" y="676.2" width="317.6" height="4.6" fill="url(#r38)"/><rect x="103.4" y="680.2" width="317.6" height="4.6" fill="url(#r39)"/><rect x="103.4" y="684.2" width="317.6" height="4.6" fill="url(#r40)"/><rect x="103.4" y="688.2" width="317.6" height="4.6" fill="url(#r41)"/><rect x="103.4" y="692.2" width="317.6" height="4.6" fill="url(#r42)"/><rect x="103.4" y="696.2" width="317.6" height="4.6" fill="url(#r43)"/><rect x="103.4" y="700.2" width="317.6" height="4.6" fill="url(#r44)"/><rect x="103.4" y="704.2" width="317.6" height="4.6" fill="url(#r45)"/><rect x="103.4" y="708.2" width="317.6" height="4.6" fill="url(#r46)"/><rect x="103.4" y="712.2" width="317.6" height="4.6" fill="url(#r47)"/><rect x="103.4" y="716.2" width="317.6" height="4.6" fill="url(#r48)"/><rect x="103.4" y="720.2" width="317.6" height="4.6" fill="url(#r49)"/><rect x="103.4" y="724.2" width="317.6" height="4.6" fill="url(#r50)"/><rect x="103.4" y="728.2" width="317.6" height="4.6" fill="url(#r51)"/><rect x="103.4" y="732.2" width="317.6" height="4.6" fill="url(#r52)"/><rect x="103.4" y="736.2" width="317.6" height="4.6" fill="url(#r53)"/><rect x="103.4" y="740.2" width="317.6" height="4.6" fill="url(#r54)"/><rect x="103.4" y="744.2" width="317.6" height="4.6" fill="url(#r55)"/></g>
<g fill="#ffffff"><ellipse cx="419" cy="633.6" rx="3.6" ry="2.2"/><ellipse cx="418" cy="725.5" rx="4.6" ry="2.8"/><rect x="413.5" y="741.5" width="8" height="5"/></g>
<path d="M99.3,425.5H424.2V749.5H99.3ZM85.3,667.60H99.3M85.3,591.00H99.3M85.3,514.40H99.3M85.3,437.80H99.3M112.9,749.5V763.6M160.8,749.5V763.6M210.8,749.5V763.6M260.5,749.5V763.6M310.5,749.5V763.6M360.5,749.5V763.6M410.4,749.5V763.6" fill="none" stroke="#000" stroke-width="2.1"/>
<rect x="438.05" y="500.55" width="18.69999999999999" height="197.7" fill="url(#cb)" stroke="#000" stroke-width="1.6"/>
<path d="M456.7,501.5H467.2M456.7,534.1H467.2M456.7,566.5H467.2M456.7,598.9H467.2M456.7,631.2H467.2M456.7,663.8H467.2M456.7,696.4H467.2" stroke="#000" stroke-width="2"/>
<g font-family='"Liberation Sans", Arial, Helvetica, sans-serif'>
<text x="81.4" y="678.0" font-size="25.0" text-anchor="end" fill="#000"  stroke="#000" stroke-width="0.35">5</text>
<text x="83.6" y="601.4" font-size="25.0" text-anchor="end" fill="#000"  stroke="#000" stroke-width="0.35">10</text>
<text x="83.6" y="524.8" font-size="25.0" text-anchor="end" fill="#000"  stroke="#000" stroke-width="0.35">15</text>
<text x="83.6" y="448.2" font-size="25.0" text-anchor="end" fill="#000"  stroke="#000" stroke-width="0.35">20</text>
<text x="113.2" y="787.2" font-size="25.0" text-anchor="middle" fill="#000"  stroke="#000" stroke-width="0.35">0</text>
<text x="161.10000000000002" y="787.2" font-size="25.0" text-anchor="middle" fill="#000"  stroke="#000" stroke-width="0.35">50</text>
<text x="211.10000000000002" y="787.2" font-size="25.0" text-anchor="middle" fill="#000"  stroke="#000" stroke-width="0.35">100</text>
<text x="260.8" y="787.2" font-size="25.0" text-anchor="middle" fill="#000"  stroke="#000" stroke-width="0.35">150</text>
<text x="310.8" y="787.2" font-size="25.0" text-anchor="middle" fill="#000"  stroke="#000" stroke-width="0.35">200</text>
<text x="360.8" y="787.2" font-size="25.0" text-anchor="middle" fill="#000"  stroke="#000" stroke-width="0.35">250</text>
<text x="410.7" y="787.2" font-size="25.0" text-anchor="middle" fill="#000"  stroke="#000" stroke-width="0.35">300</text>
<text x="262" y="819.4" font-size="25.0" text-anchor="middle" fill="#000"  stroke="#000" stroke-width="0.35">T (K)</text>
<text transform="translate(28.7,595.0) rotate(-90)" font-size="25.6" text-anchor="middle" stroke="#000" stroke-width="0.35">B (T)</text>
<text x="-0.9" y="444.4" font-size="25" text-anchor="start" fill="#000"  stroke="#000" stroke-width="0.35">(b)</text>
<text x="440.5" y="477.9" font-size="25.2" text-anchor="start" fill="#000"  stroke="#000" stroke-width="0.35">dM/dH</text>
<text x="473.6" y="511.3" font-size="25.0" text-anchor="start" fill="#000"  stroke="#000" stroke-width="0.35">0.40</text>
<text x="473.6" y="543.9" font-size="25.0" text-anchor="start" fill="#000"  stroke="#000" stroke-width="0.35">0.35</text>
<text x="473.6" y="576.3" font-size="25.0" text-anchor="start" fill="#000"  stroke="#000" stroke-width="0.35">0.30</text>
<text x="473.6" y="608.6999999999999" font-size="25.0" text-anchor="start" fill="#000"  stroke="#000" stroke-width="0.35">0.25</text>
<text x="473.6" y="641.0" font-size="25.0" text-anchor="start" fill="#000"  stroke="#000" stroke-width="0.35">0.20</text>
<text x="473.6" y="673.5999999999999" font-size="25.0" text-anchor="start" fill="#000"  stroke="#000" stroke-width="0.35">0.15</text>
<text x="473.6" y="706.1999999999999" font-size="25.0" text-anchor="start" fill="#000"  stroke="#000" stroke-width="0.35">0.10</text>
<text x="109.5" y="450.3" font-size="20.6" text-anchor="start" fill="#e05a28"  stroke="#e05a28" stroke-width="0.35">BFO (Single crystal)</text>
<text x="175.6" y="511.2" font-size="20.6" fill="#000" stroke="#000" stroke-width="0.35">H<tspan font-size="17.5" dy="6.5">c</tspan><tspan dy="-6.5"> obtained in ref.[ 30]</tspan></text>
<text x="109.6" y="734.7" font-size="20.8" text-anchor="start" fill="#1c1c88"  stroke="#1c1c88" stroke-width="0.35">BFO (Nanosheet)</text>
</g>
</svg>
<div class="dm" style="left:105.9px;top:460.8px"><div></div></div><div class="dm" style="left:150.2px;top:456.7px"><div></div></div><div class="dm" style="left:201.4px;top:456.2px"><div></div></div><div class="dm" style="left:250.4px;top:464.8px"><div></div></div><div class="dm" style="left:301.0px;top:467.6px"><div></div></div><div class="dm" style="left:350.2px;top:472.0px"><div></div></div><div class="dm" style="left:399.8px;top:486.4px"><div></div></div><div class="tr" style="left:102.9px;top:647.8px;width:22.3px;height:21.2px;background:#0a0a0a"><div style="left:4.47px;top:2.70px;width:13.36px;height:12.70px;background:conic-gradient(from 90deg at 50% 55%, #404040, #e8e8e8)"></div></div><div class="tr" style="left:107.9px;top:622.3px;width:22.5px;height:20.9px;background:#f01010"><div style="left:4.52px;top:2.70px;width:13.46px;height:12.50px;background:conic-gradient(from 90deg at 50% 55%, #ff3838, #ffeaea)"></div></div><div class="tr" style="left:149.4px;top:605.1px;width:22.9px;height:21.8px;background:#0d8a0d"><div style="left:4.47px;top:2.70px;width:13.96px;height:13.29px;background:conic-gradient(from 90deg at 50% 55%, #20a020, #e8fce8)"></div></div><div class="tr" style="left:195.6px;top:602.5px;width:22.5px;height:20.8px;background:#8c1040"><div style="left:4.53px;top:2.70px;width:13.44px;height:12.42px;background:conic-gradient(from 90deg at 50% 55%, #a03860, #fbeaf0)"></div></div><div class="tr" style="left:246.8px;top:602.8px;width:21.8px;height:21.2px;background:#e0641c"><div style="left:4.42px;top:2.70px;width:12.95px;height:12.60px;background:conic-gradient(from 90deg at 50% 55%, #f08040, #fff0e6)"></div></div><div class="tr" style="left:293.6px;top:596.0px;width:22.9px;height:21.6px;background:#1010d8"><div style="left:4.49px;top:2.70px;width:13.93px;height:13.14px;background:conic-gradient(from 90deg at 50% 55%, #3838f8, #e6e6ff)"></div></div><div class="tr" style="left:347.9px;top:597.1px;width:22.1px;height:21.6px;background:#10108a"><div style="left:4.41px;top:2.70px;width:13.27px;height:12.97px;background:conic-gradient(from 90deg at 50% 55%, #303090, #e6e6f4)"></div></div><div class="tr" style="left:398.2px;top:588.4px;width:22.6px;height:21.5px;background:#e0185a"><div style="left:4.47px;top:2.70px;width:13.66px;height:13.00px;background:conic-gradient(from 90deg at 50% 55%, #e83070, #ffe8f0)"></div></div>
</body></html>
